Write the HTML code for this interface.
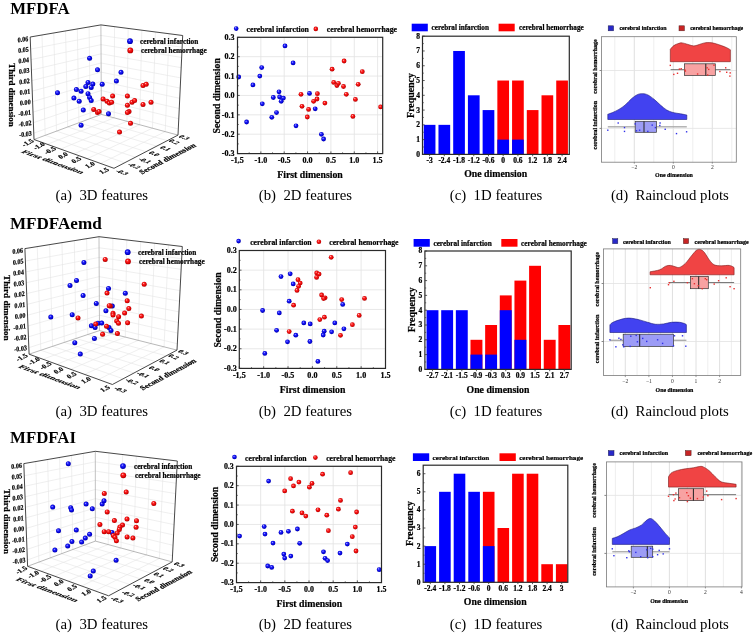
<!DOCTYPE html><html><head><meta charset="utf-8"><style>html,body{margin:0;padding:0;background:#fff;}svg{display:block;will-change:transform;}text{font-family:"Liberation Serif", serif;}</style></head><body>
<svg width="755" height="636" viewBox="0 0 755 636">
<defs>
<radialGradient id="gb" cx="0.5" cy="0.5" fx="0.36" fy="0.3" r="0.6"><stop offset="0" stop-color="#c8c8ff"/><stop offset="0.3" stop-color="#2424ff"/><stop offset="0.7" stop-color="#0000d0"/><stop offset="1" stop-color="#000088"/></radialGradient>
<radialGradient id="gr" cx="0.5" cy="0.5" fx="0.36" fy="0.3" r="0.6"><stop offset="0" stop-color="#ffc8c8"/><stop offset="0.3" stop-color="#ff2424"/><stop offset="0.7" stop-color="#d80000"/><stop offset="1" stop-color="#880000"/></radialGradient>
</defs>
<text x="10.20" y="14.30" font-size="16.8" font-weight="bold" text-anchor="start" fill="#000">MFDFA</text>
<text x="9.90" y="228.70" font-size="17.1" font-weight="bold" text-anchor="start" fill="#000">MFDFAemd</text>
<text x="10.10" y="443.40" font-size="16.8" font-weight="bold" text-anchor="start" fill="#000">MFDFAI</text>
<text x="55.60" y="200.10" font-size="14.8" font-weight="normal" text-anchor="start" fill="#000" xml:space="preserve">(a)  3D features</text>
<text x="258.80" y="200.10" font-size="14.8" font-weight="normal" text-anchor="start" fill="#000" xml:space="preserve">(b)  2D features</text>
<text x="449.80" y="200.10" font-size="14.8" font-weight="normal" text-anchor="start" fill="#000" xml:space="preserve">(c)  1D features</text>
<text x="610.90" y="200.10" font-size="14.8" font-weight="normal" text-anchor="start" fill="#000" xml:space="preserve">(d)  Raincloud plots</text>
<text x="55.60" y="415.50" font-size="14.8" font-weight="normal" text-anchor="start" fill="#000" xml:space="preserve">(a)  3D features</text>
<text x="258.80" y="415.50" font-size="14.8" font-weight="normal" text-anchor="start" fill="#000" xml:space="preserve">(b)  2D features</text>
<text x="449.80" y="415.50" font-size="14.8" font-weight="normal" text-anchor="start" fill="#000" xml:space="preserve">(c)  1D features</text>
<text x="610.90" y="415.50" font-size="14.8" font-weight="normal" text-anchor="start" fill="#000" xml:space="preserve">(d)  Raincloud plots</text>
<text x="55.60" y="628.80" font-size="14.8" font-weight="normal" text-anchor="start" fill="#000" xml:space="preserve">(a)  3D features</text>
<text x="258.80" y="628.80" font-size="14.8" font-weight="normal" text-anchor="start" fill="#000" xml:space="preserve">(b)  2D features</text>
<text x="449.80" y="628.80" font-size="14.8" font-weight="normal" text-anchor="start" fill="#000" xml:space="preserve">(c)  1D features</text>
<text x="610.90" y="628.80" font-size="14.8" font-weight="normal" text-anchor="start" fill="#000" xml:space="preserve">(d)  Raincloud plots</text>
<line x1="45.23" y1="135.32" x2="41.98" y2="34.98" stroke="#e4e4e4" stroke-width="0.6"/>
<line x1="56.47" y1="131.13" x2="53.77" y2="32.97" stroke="#e4e4e4" stroke-width="0.6"/>
<line x1="67.70" y1="126.95" x2="65.55" y2="30.95" stroke="#e4e4e4" stroke-width="0.6"/>
<line x1="78.93" y1="122.77" x2="77.33" y2="28.93" stroke="#e4e4e4" stroke-width="0.6"/>
<line x1="90.17" y1="118.58" x2="89.12" y2="26.92" stroke="#e4e4e4" stroke-width="0.6"/>
<line x1="114.17" y1="117.85" x2="114.53" y2="26.67" stroke="#e4e4e4" stroke-width="0.6"/>
<line x1="126.93" y1="121.30" x2="128.17" y2="28.43" stroke="#e4e4e4" stroke-width="0.6"/>
<line x1="139.70" y1="124.75" x2="141.80" y2="30.20" stroke="#e4e4e4" stroke-width="0.6"/>
<line x1="152.47" y1="128.20" x2="155.43" y2="31.97" stroke="#e4e4e4" stroke-width="0.6"/>
<line x1="165.23" y1="131.65" x2="169.07" y2="33.73" stroke="#e4e4e4" stroke-width="0.6"/>
<line x1="33.77" y1="133.19" x2="101.37" y2="108.89" stroke="#e4e4e4" stroke-width="0.6"/>
<line x1="101.37" y1="108.89" x2="178.29" y2="128.97" stroke="#e4e4e4" stroke-width="0.6"/>
<line x1="33.38" y1="122.68" x2="101.32" y2="99.71" stroke="#e4e4e4" stroke-width="0.6"/>
<line x1="101.32" y1="99.71" x2="178.77" y2="118.76" stroke="#e4e4e4" stroke-width="0.6"/>
<line x1="32.99" y1="112.17" x2="101.27" y2="90.53" stroke="#e4e4e4" stroke-width="0.6"/>
<line x1="101.27" y1="90.53" x2="179.25" y2="108.54" stroke="#e4e4e4" stroke-width="0.6"/>
<line x1="32.60" y1="101.65" x2="101.22" y2="81.35" stroke="#e4e4e4" stroke-width="0.6"/>
<line x1="101.22" y1="81.35" x2="179.74" y2="98.32" stroke="#e4e4e4" stroke-width="0.6"/>
<line x1="32.21" y1="91.14" x2="101.16" y2="72.17" stroke="#e4e4e4" stroke-width="0.6"/>
<line x1="101.16" y1="72.17" x2="180.22" y2="88.11" stroke="#e4e4e4" stroke-width="0.6"/>
<line x1="31.82" y1="80.63" x2="101.11" y2="62.99" stroke="#e4e4e4" stroke-width="0.6"/>
<line x1="101.11" y1="62.99" x2="180.70" y2="77.89" stroke="#e4e4e4" stroke-width="0.6"/>
<line x1="31.43" y1="70.12" x2="101.06" y2="53.82" stroke="#e4e4e4" stroke-width="0.6"/>
<line x1="101.06" y1="53.82" x2="181.18" y2="67.68" stroke="#e4e4e4" stroke-width="0.6"/>
<line x1="31.04" y1="59.60" x2="101.01" y2="44.64" stroke="#e4e4e4" stroke-width="0.6"/>
<line x1="101.01" y1="44.64" x2="181.66" y2="57.46" stroke="#e4e4e4" stroke-width="0.6"/>
<line x1="30.65" y1="49.09" x2="100.96" y2="35.46" stroke="#e4e4e4" stroke-width="0.6"/>
<line x1="100.96" y1="35.46" x2="182.15" y2="47.25" stroke="#e4e4e4" stroke-width="0.6"/>
<line x1="47.33" y1="144.30" x2="114.17" y2="117.85" stroke="#e4e4e4" stroke-width="0.6"/>
<line x1="124.67" y1="162.77" x2="45.23" y2="135.32" stroke="#e4e4e4" stroke-width="0.6"/>
<line x1="60.67" y1="149.10" x2="126.93" y2="121.30" stroke="#e4e4e4" stroke-width="0.6"/>
<line x1="135.33" y1="157.23" x2="56.47" y2="131.13" stroke="#e4e4e4" stroke-width="0.6"/>
<line x1="74.00" y1="153.90" x2="139.70" y2="124.75" stroke="#e4e4e4" stroke-width="0.6"/>
<line x1="146.00" y1="151.70" x2="67.70" y2="126.95" stroke="#e4e4e4" stroke-width="0.6"/>
<line x1="87.33" y1="158.70" x2="152.47" y2="128.20" stroke="#e4e4e4" stroke-width="0.6"/>
<line x1="156.67" y1="146.17" x2="78.93" y2="122.77" stroke="#e4e4e4" stroke-width="0.6"/>
<line x1="100.67" y1="163.50" x2="165.23" y2="131.65" stroke="#e4e4e4" stroke-width="0.6"/>
<line x1="167.33" y1="140.63" x2="90.17" y2="118.58" stroke="#e4e4e4" stroke-width="0.6"/>
<line x1="101.40" y1="114.40" x2="100.90" y2="24.90" stroke="#999" stroke-width="0.6"/>
<line x1="34.00" y1="139.50" x2="101.40" y2="114.40" stroke="#888" stroke-width="0.6"/>
<line x1="101.40" y1="114.40" x2="178.00" y2="135.10" stroke="#888" stroke-width="0.6"/>
<line x1="30.20" y1="37.00" x2="100.90" y2="24.90" stroke="#333" stroke-width="0.9"/>
<line x1="100.90" y1="24.90" x2="182.70" y2="35.50" stroke="#333" stroke-width="0.9"/>
<line x1="34.00" y1="139.50" x2="30.20" y2="37.00" stroke="#333" stroke-width="0.9"/>
<line x1="178.00" y1="135.10" x2="182.70" y2="35.50" stroke="#333" stroke-width="0.9"/>
<line x1="34.00" y1="139.50" x2="114.00" y2="168.30" stroke="#333" stroke-width="0.9"/>
<line x1="114.00" y1="168.30" x2="178.00" y2="135.10" stroke="#333" stroke-width="0.9"/>
<text x="0" y="0" font-size="7.2" font-weight="bold" text-anchor="middle" transform="matrix(0.8415,-0.1190,0.0370,0.9993,25.54,136.46)" stroke="#000" stroke-width="0.22">-0.03</text>
<text x="0" y="0" font-size="7.2" font-weight="bold" text-anchor="middle" transform="matrix(0.8415,-0.1190,0.0370,0.9993,25.15,125.95)" stroke="#000" stroke-width="0.22">-0.02</text>
<text x="0" y="0" font-size="7.2" font-weight="bold" text-anchor="middle" transform="matrix(0.8415,-0.1190,0.0370,0.9993,24.76,115.43)" stroke="#000" stroke-width="0.22">-0.01</text>
<text x="0" y="0" font-size="7.2" font-weight="bold" text-anchor="middle" transform="matrix(0.8415,-0.1190,0.0370,0.9993,25.38,104.78)" stroke="#000" stroke-width="0.22">0.00</text>
<text x="0" y="0" font-size="7.2" font-weight="bold" text-anchor="middle" transform="matrix(0.8415,-0.1190,0.0370,0.9993,24.99,94.27)" stroke="#000" stroke-width="0.22">0.01</text>
<text x="0" y="0" font-size="7.2" font-weight="bold" text-anchor="middle" transform="matrix(0.8415,-0.1190,0.0370,0.9993,24.60,83.75)" stroke="#000" stroke-width="0.22">0.02</text>
<text x="0" y="0" font-size="7.2" font-weight="bold" text-anchor="middle" transform="matrix(0.8415,-0.1190,0.0370,0.9993,24.21,73.24)" stroke="#000" stroke-width="0.22">0.03</text>
<text x="0" y="0" font-size="7.2" font-weight="bold" text-anchor="middle" transform="matrix(0.8415,-0.1190,0.0370,0.9993,23.82,62.73)" stroke="#000" stroke-width="0.22">0.04</text>
<text x="0" y="0" font-size="7.2" font-weight="bold" text-anchor="middle" transform="matrix(0.8415,-0.1190,0.0370,0.9993,23.43,52.21)" stroke="#000" stroke-width="0.22">0.05</text>
<text x="0" y="0" font-size="7.2" font-weight="bold" text-anchor="middle" transform="matrix(0.8415,-0.1190,0.0370,0.9993,23.05,41.70)" stroke="#000" stroke-width="0.22">0.06</text>
<text x="0.00" y="0.00" font-size="8.9" font-weight="bold" text-anchor="middle" fill="#000" transform="translate(9.06,95.00) rotate(90)" stroke="#000" stroke-width="0.22">Third dimension</text>
<text x="0" y="0" font-size="7.2" font-weight="bold" text-anchor="middle" transform="matrix(0.8877,-0.4605,0.7149,0.6256,29.40,144.29)" stroke="#000" stroke-width="0.22">-1.5</text>
<text x="0" y="0" font-size="7.2" font-weight="bold" text-anchor="middle" transform="matrix(0.8877,-0.4605,0.7149,0.6256,40.70,147.49)" stroke="#000" stroke-width="0.22">-1.0</text>
<text x="0" y="0" font-size="7.2" font-weight="bold" text-anchor="middle" transform="matrix(0.8877,-0.4605,0.7149,0.6256,51.70,151.89)" stroke="#000" stroke-width="0.22">-0.5</text>
<text x="0" y="0" font-size="7.2" font-weight="bold" text-anchor="middle" transform="matrix(0.8877,-0.4605,0.7149,0.6256,64.70,156.99)" stroke="#000" stroke-width="0.22">0.0</text>
<text x="0" y="0" font-size="7.2" font-weight="bold" text-anchor="middle" transform="matrix(0.8877,-0.4605,0.7149,0.6256,77.90,161.39)" stroke="#000" stroke-width="0.22">0.5</text>
<text x="0" y="0" font-size="7.2" font-weight="bold" text-anchor="middle" transform="matrix(0.8877,-0.4605,0.7149,0.6256,91.70,166.49)" stroke="#000" stroke-width="0.22">1.0</text>
<text x="0" y="0" font-size="7.2" font-weight="bold" text-anchor="middle" transform="matrix(0.8877,-0.4605,0.7149,0.6256,105.70,172.29)" stroke="#000" stroke-width="0.22">1.5</text>
<text x="0" y="0" font-size="7.2" font-weight="bold" text-anchor="middle" transform="matrix(0.9409,0.3387,-0.8433,0.4375,120.00,173.34)" stroke="#000" stroke-width="0.22">-0.3</text>
<text x="0" y="0" font-size="7.2" font-weight="bold" text-anchor="middle" transform="matrix(0.9409,0.3387,-0.8433,0.4375,132.10,166.94)" stroke="#000" stroke-width="0.22">-0.2</text>
<text x="0" y="0" font-size="7.2" font-weight="bold" text-anchor="middle" transform="matrix(0.9409,0.3387,-0.8433,0.4375,142.80,161.54)" stroke="#000" stroke-width="0.22">-0.1</text>
<text x="0" y="0" font-size="7.2" font-weight="bold" text-anchor="middle" transform="matrix(0.9409,0.3387,-0.8433,0.4375,152.20,154.84)" stroke="#000" stroke-width="0.22">0.0</text>
<text x="0" y="0" font-size="7.2" font-weight="bold" text-anchor="middle" transform="matrix(0.9409,0.3387,-0.8433,0.4375,163.50,149.54)" stroke="#000" stroke-width="0.22">0.1</text>
<text x="0" y="0" font-size="7.2" font-weight="bold" text-anchor="middle" transform="matrix(0.9409,0.3387,-0.8433,0.4375,172.20,142.84)" stroke="#000" stroke-width="0.22">0.2</text>
<text x="0" y="0" font-size="7.2" font-weight="bold" text-anchor="middle" transform="matrix(0.9409,0.3387,-0.8433,0.4375,182.30,138.54)" stroke="#000" stroke-width="0.22">0.3</text>
<text x="0" y="0" font-size="9.6" font-weight="bold" text-anchor="middle" transform="matrix(0.9409,0.3387,-0.7101,0.3684,50.75,163.17)" stroke="#000" stroke-width="0.22">First dimension</text>
<text x="0" y="0" font-size="8.0" font-weight="bold" text-anchor="middle" transform="matrix(0.8877,-0.4605,0.7149,0.6256,169.29,160.35)" stroke="#000" stroke-width="0.22">Second dimension</text>
<circle cx="89.60" cy="58.20" r="2.5" fill="url(#gb)"/>
<circle cx="97.50" cy="69.80" r="2.5" fill="url(#gb)"/>
<circle cx="121.00" cy="72.30" r="2.5" fill="url(#gb)"/>
<circle cx="116.40" cy="81.10" r="2.5" fill="url(#gb)"/>
<circle cx="102.20" cy="84.30" r="2.5" fill="url(#gb)"/>
<circle cx="57.50" cy="92.80" r="2.5" fill="url(#gb)"/>
<circle cx="76.40" cy="89.60" r="2.5" fill="url(#gb)"/>
<circle cx="81.10" cy="91.20" r="2.5" fill="url(#gb)"/>
<circle cx="88.00" cy="82.40" r="2.5" fill="url(#gb)"/>
<circle cx="92.80" cy="84.00" r="2.5" fill="url(#gb)"/>
<circle cx="85.80" cy="86.50" r="2.5" fill="url(#gb)"/>
<circle cx="91.20" cy="87.40" r="2.5" fill="url(#gb)"/>
<circle cx="73.90" cy="98.10" r="2.5" fill="url(#gb)"/>
<circle cx="79.20" cy="101.30" r="2.5" fill="url(#gb)"/>
<circle cx="88.00" cy="93.70" r="2.5" fill="url(#gb)"/>
<circle cx="89.60" cy="97.50" r="2.5" fill="url(#gb)"/>
<circle cx="91.20" cy="100.60" r="2.5" fill="url(#gb)"/>
<circle cx="83.30" cy="110.00" r="2.5" fill="url(#gb)"/>
<circle cx="108.50" cy="113.80" r="2.5" fill="url(#gb)"/>
<circle cx="81.10" cy="125.20" r="2.5" fill="url(#gb)"/>
<circle cx="143.00" cy="85.50" r="2.5" fill="url(#gr)"/>
<circle cx="146.20" cy="84.30" r="2.5" fill="url(#gr)"/>
<circle cx="151.00" cy="102.20" r="2.5" fill="url(#gr)"/>
<circle cx="143.00" cy="104.40" r="2.5" fill="url(#gr)"/>
<circle cx="127.40" cy="96.00" r="2.5" fill="url(#gr)"/>
<circle cx="132.00" cy="102.20" r="2.5" fill="url(#gr)"/>
<circle cx="134.60" cy="100.60" r="2.5" fill="url(#gr)"/>
<circle cx="127.40" cy="105.30" r="2.5" fill="url(#gr)"/>
<circle cx="129.00" cy="111.60" r="2.5" fill="url(#gr)"/>
<circle cx="127.40" cy="112.60" r="2.5" fill="url(#gr)"/>
<circle cx="130.50" cy="123.30" r="2.5" fill="url(#gr)"/>
<circle cx="119.50" cy="132.00" r="2.5" fill="url(#gr)"/>
<circle cx="103.10" cy="99.00" r="2.5" fill="url(#gr)"/>
<circle cx="107.00" cy="101.30" r="2.5" fill="url(#gr)"/>
<circle cx="109.40" cy="103.10" r="2.5" fill="url(#gr)"/>
<circle cx="111.60" cy="102.20" r="2.5" fill="url(#gr)"/>
<circle cx="112.60" cy="96.00" r="2.5" fill="url(#gr)"/>
<circle cx="93.70" cy="109.40" r="2.5" fill="url(#gr)"/>
<circle cx="97.50" cy="112.60" r="2.5" fill="url(#gr)"/>
<circle cx="99.00" cy="111.60" r="2.5" fill="url(#gr)"/>
<circle cx="130.00" cy="41.20" r="2.9" fill="url(#gb)"/>
<text x="140.00" y="43.60" font-size="7.3" font-weight="bold" text-anchor="start" fill="#000" stroke="#000" stroke-width="0.22">cerebral infarction</text>
<circle cx="130.30" cy="50.40" r="2.9" fill="url(#gr)"/>
<text x="141.00" y="52.80" font-size="7.3" font-weight="bold" text-anchor="start" fill="#000" stroke="#000" stroke-width="0.22">cerebral hemorrhage</text>
<line x1="40.83" y1="350.27" x2="37.25" y2="246.62" stroke="#e4e4e4" stroke-width="0.6"/>
<line x1="52.57" y1="346.33" x2="49.60" y2="244.63" stroke="#e4e4e4" stroke-width="0.6"/>
<line x1="64.30" y1="342.40" x2="61.95" y2="242.65" stroke="#e4e4e4" stroke-width="0.6"/>
<line x1="76.03" y1="338.47" x2="74.30" y2="240.67" stroke="#e4e4e4" stroke-width="0.6"/>
<line x1="87.77" y1="334.53" x2="86.65" y2="238.68" stroke="#e4e4e4" stroke-width="0.6"/>
<line x1="112.42" y1="333.85" x2="112.88" y2="238.33" stroke="#e4e4e4" stroke-width="0.6"/>
<line x1="125.33" y1="337.10" x2="126.77" y2="239.97" stroke="#e4e4e4" stroke-width="0.6"/>
<line x1="138.25" y1="340.35" x2="140.65" y2="241.60" stroke="#e4e4e4" stroke-width="0.6"/>
<line x1="151.17" y1="343.60" x2="154.53" y2="243.23" stroke="#e4e4e4" stroke-width="0.6"/>
<line x1="164.08" y1="346.85" x2="168.42" y2="244.87" stroke="#e4e4e4" stroke-width="0.6"/>
<line x1="28.84" y1="347.70" x2="99.47" y2="324.82" stroke="#e4e4e4" stroke-width="0.6"/>
<line x1="99.47" y1="324.82" x2="177.33" y2="343.72" stroke="#e4e4e4" stroke-width="0.6"/>
<line x1="28.41" y1="336.87" x2="99.42" y2="315.19" stroke="#e4e4e4" stroke-width="0.6"/>
<line x1="99.42" y1="315.19" x2="177.87" y2="333.10" stroke="#e4e4e4" stroke-width="0.6"/>
<line x1="27.98" y1="326.04" x2="99.37" y2="305.56" stroke="#e4e4e4" stroke-width="0.6"/>
<line x1="99.37" y1="305.56" x2="178.41" y2="322.47" stroke="#e4e4e4" stroke-width="0.6"/>
<line x1="27.55" y1="315.21" x2="99.32" y2="295.93" stroke="#e4e4e4" stroke-width="0.6"/>
<line x1="99.32" y1="295.93" x2="178.96" y2="311.85" stroke="#e4e4e4" stroke-width="0.6"/>
<line x1="27.12" y1="304.38" x2="99.26" y2="286.30" stroke="#e4e4e4" stroke-width="0.6"/>
<line x1="99.26" y1="286.30" x2="179.50" y2="301.22" stroke="#e4e4e4" stroke-width="0.6"/>
<line x1="26.69" y1="293.55" x2="99.21" y2="276.67" stroke="#e4e4e4" stroke-width="0.6"/>
<line x1="99.21" y1="276.67" x2="180.04" y2="290.60" stroke="#e4e4e4" stroke-width="0.6"/>
<line x1="26.26" y1="282.72" x2="99.16" y2="267.04" stroke="#e4e4e4" stroke-width="0.6"/>
<line x1="99.16" y1="267.04" x2="180.59" y2="279.97" stroke="#e4e4e4" stroke-width="0.6"/>
<line x1="25.83" y1="271.89" x2="99.11" y2="257.41" stroke="#e4e4e4" stroke-width="0.6"/>
<line x1="99.11" y1="257.41" x2="181.13" y2="269.35" stroke="#e4e4e4" stroke-width="0.6"/>
<line x1="25.40" y1="261.06" x2="99.06" y2="247.78" stroke="#e4e4e4" stroke-width="0.6"/>
<line x1="99.06" y1="247.78" x2="181.67" y2="258.72" stroke="#e4e4e4" stroke-width="0.6"/>
<line x1="42.98" y1="359.25" x2="112.42" y2="333.85" stroke="#e4e4e4" stroke-width="0.6"/>
<line x1="123.17" y1="378.77" x2="40.83" y2="350.27" stroke="#e4e4e4" stroke-width="0.6"/>
<line x1="56.87" y1="364.30" x2="125.33" y2="337.10" stroke="#e4e4e4" stroke-width="0.6"/>
<line x1="133.93" y1="373.03" x2="52.57" y2="346.33" stroke="#e4e4e4" stroke-width="0.6"/>
<line x1="70.75" y1="369.35" x2="138.25" y2="340.35" stroke="#e4e4e4" stroke-width="0.6"/>
<line x1="144.70" y1="367.30" x2="64.30" y2="342.40" stroke="#e4e4e4" stroke-width="0.6"/>
<line x1="84.63" y1="374.40" x2="151.17" y2="343.60" stroke="#e4e4e4" stroke-width="0.6"/>
<line x1="155.47" y1="361.57" x2="76.03" y2="338.47" stroke="#e4e4e4" stroke-width="0.6"/>
<line x1="98.52" y1="379.45" x2="164.08" y2="346.85" stroke="#e4e4e4" stroke-width="0.6"/>
<line x1="166.23" y1="355.83" x2="87.77" y2="334.53" stroke="#e4e4e4" stroke-width="0.6"/>
<line x1="99.50" y1="330.60" x2="99.00" y2="236.70" stroke="#999" stroke-width="0.6"/>
<line x1="29.10" y1="354.20" x2="99.50" y2="330.60" stroke="#888" stroke-width="0.6"/>
<line x1="99.50" y1="330.60" x2="177.00" y2="350.10" stroke="#888" stroke-width="0.6"/>
<line x1="24.90" y1="248.60" x2="99.00" y2="236.70" stroke="#333" stroke-width="0.9"/>
<line x1="99.00" y1="236.70" x2="182.30" y2="246.50" stroke="#333" stroke-width="0.9"/>
<line x1="29.10" y1="354.20" x2="24.90" y2="248.60" stroke="#333" stroke-width="0.9"/>
<line x1="177.00" y1="350.10" x2="182.30" y2="246.50" stroke="#333" stroke-width="0.9"/>
<line x1="29.10" y1="354.20" x2="112.40" y2="384.50" stroke="#333" stroke-width="0.9"/>
<line x1="112.40" y1="384.50" x2="177.00" y2="350.10" stroke="#333" stroke-width="0.9"/>
<text x="0" y="0" font-size="7.2" font-weight="bold" text-anchor="middle" transform="matrix(0.8415,-0.1190,0.0397,0.9992,20.63,350.97)" stroke="#000" stroke-width="0.22">-0.03</text>
<text x="0" y="0" font-size="7.2" font-weight="bold" text-anchor="middle" transform="matrix(0.8415,-0.1190,0.0397,0.9992,20.19,340.14)" stroke="#000" stroke-width="0.22">-0.02</text>
<text x="0" y="0" font-size="7.2" font-weight="bold" text-anchor="middle" transform="matrix(0.8415,-0.1190,0.0397,0.9992,19.76,329.31)" stroke="#000" stroke-width="0.22">-0.01</text>
<text x="0" y="0" font-size="7.2" font-weight="bold" text-anchor="middle" transform="matrix(0.8415,-0.1190,0.0397,0.9992,20.34,318.33)" stroke="#000" stroke-width="0.22">0.00</text>
<text x="0" y="0" font-size="7.2" font-weight="bold" text-anchor="middle" transform="matrix(0.8415,-0.1190,0.0397,0.9992,19.91,307.50)" stroke="#000" stroke-width="0.22">0.01</text>
<text x="0" y="0" font-size="7.2" font-weight="bold" text-anchor="middle" transform="matrix(0.8415,-0.1190,0.0397,0.9992,19.48,296.67)" stroke="#000" stroke-width="0.22">0.02</text>
<text x="0" y="0" font-size="7.2" font-weight="bold" text-anchor="middle" transform="matrix(0.8415,-0.1190,0.0397,0.9992,19.05,285.84)" stroke="#000" stroke-width="0.22">0.03</text>
<text x="0" y="0" font-size="7.2" font-weight="bold" text-anchor="middle" transform="matrix(0.8415,-0.1190,0.0397,0.9992,18.62,275.01)" stroke="#000" stroke-width="0.22">0.04</text>
<text x="0" y="0" font-size="7.2" font-weight="bold" text-anchor="middle" transform="matrix(0.8415,-0.1190,0.0397,0.9992,18.19,264.18)" stroke="#000" stroke-width="0.22">0.05</text>
<text x="0" y="0" font-size="7.2" font-weight="bold" text-anchor="middle" transform="matrix(0.8415,-0.1190,0.0397,0.9992,17.76,253.35)" stroke="#000" stroke-width="0.22">0.06</text>
<text x="0.00" y="0.00" font-size="9.2" font-weight="bold" text-anchor="middle" fill="#000" transform="translate(3.76,307.90) rotate(90)" stroke="#000" stroke-width="0.22">Third dimension</text>
<text x="0" y="0" font-size="7.2" font-weight="bold" text-anchor="middle" transform="matrix(0.8827,-0.4700,0.7172,0.6230,23.30,358.88)" stroke="#000" stroke-width="0.22">-1.5</text>
<text x="0" y="0" font-size="7.2" font-weight="bold" text-anchor="middle" transform="matrix(0.8827,-0.4700,0.7172,0.6230,35.70,362.48)" stroke="#000" stroke-width="0.22">-1.0</text>
<text x="0" y="0" font-size="7.2" font-weight="bold" text-anchor="middle" transform="matrix(0.8827,-0.4700,0.7172,0.6230,47.20,367.08)" stroke="#000" stroke-width="0.22">-0.5</text>
<text x="0" y="0" font-size="7.2" font-weight="bold" text-anchor="middle" transform="matrix(0.8827,-0.4700,0.7172,0.6230,60.20,371.98)" stroke="#000" stroke-width="0.22">0.0</text>
<text x="0" y="0" font-size="7.2" font-weight="bold" text-anchor="middle" transform="matrix(0.8827,-0.4700,0.7172,0.6230,73.20,376.68)" stroke="#000" stroke-width="0.22">0.5</text>
<text x="0" y="0" font-size="7.2" font-weight="bold" text-anchor="middle" transform="matrix(0.8827,-0.4700,0.7172,0.6230,87.70,381.68)" stroke="#000" stroke-width="0.22">1.0</text>
<text x="0" y="0" font-size="7.2" font-weight="bold" text-anchor="middle" transform="matrix(0.8827,-0.4700,0.7172,0.6230,106.70,390.18)" stroke="#000" stroke-width="0.22">1.5</text>
<text x="0" y="0" font-size="7.2" font-weight="bold" text-anchor="middle" transform="matrix(0.9398,0.3418,-0.8385,0.4465,118.61,390.76)" stroke="#000" stroke-width="0.22">-0.3</text>
<text x="0" y="0" font-size="7.2" font-weight="bold" text-anchor="middle" transform="matrix(0.9398,0.3418,-0.8385,0.4465,129.91,382.56)" stroke="#000" stroke-width="0.22">-0.2</text>
<text x="0" y="0" font-size="7.2" font-weight="bold" text-anchor="middle" transform="matrix(0.9398,0.3418,-0.8385,0.4465,141.11,375.76)" stroke="#000" stroke-width="0.22">-0.1</text>
<text x="0" y="0" font-size="7.2" font-weight="bold" text-anchor="middle" transform="matrix(0.9398,0.3418,-0.8385,0.4465,152.31,369.86)" stroke="#000" stroke-width="0.22">0.0</text>
<text x="0" y="0" font-size="7.2" font-weight="bold" text-anchor="middle" transform="matrix(0.9398,0.3418,-0.8385,0.4465,162.71,363.06)" stroke="#000" stroke-width="0.22">0.1</text>
<text x="0" y="0" font-size="7.2" font-weight="bold" text-anchor="middle" transform="matrix(0.9398,0.3418,-0.8385,0.4465,171.71,357.86)" stroke="#000" stroke-width="0.22">0.2</text>
<text x="0" y="0" font-size="7.2" font-weight="bold" text-anchor="middle" transform="matrix(0.9398,0.3418,-0.8385,0.4465,181.41,353.36)" stroke="#000" stroke-width="0.22">0.3</text>
<text x="0" y="0" font-size="9.6" font-weight="bold" text-anchor="middle" transform="matrix(0.9398,0.3418,-0.7061,0.3760,47.76,378.19)" stroke="#000" stroke-width="0.22">First dimension</text>
<text x="0" y="0" font-size="8.0" font-weight="bold" text-anchor="middle" transform="matrix(0.8827,-0.4700,0.7172,0.6230,169.89,376.04)" stroke="#000" stroke-width="0.22">Second dimension</text>
<circle cx="83.90" cy="262.40" r="2.5" fill="url(#gb)"/>
<circle cx="76.50" cy="280.40" r="2.5" fill="url(#gb)"/>
<circle cx="70.00" cy="285.40" r="2.5" fill="url(#gb)"/>
<circle cx="83.10" cy="295.50" r="2.5" fill="url(#gb)"/>
<circle cx="96.30" cy="303.40" r="2.5" fill="url(#gb)"/>
<circle cx="108.50" cy="288.50" r="2.5" fill="url(#gb)"/>
<circle cx="125.30" cy="293.20" r="2.5" fill="url(#gb)"/>
<circle cx="105.90" cy="310.80" r="2.5" fill="url(#gb)"/>
<circle cx="112.30" cy="306.10" r="2.5" fill="url(#gb)"/>
<circle cx="50.80" cy="317.00" r="2.5" fill="url(#gb)"/>
<circle cx="72.20" cy="314.80" r="2.5" fill="url(#gb)"/>
<circle cx="91.40" cy="325.80" r="2.5" fill="url(#gb)"/>
<circle cx="95.10" cy="327.40" r="2.5" fill="url(#gb)"/>
<circle cx="98.00" cy="323.20" r="2.5" fill="url(#gb)"/>
<circle cx="101.70" cy="323.10" r="2.5" fill="url(#gb)"/>
<circle cx="109.00" cy="327.40" r="2.5" fill="url(#gb)"/>
<circle cx="111.00" cy="330.40" r="2.5" fill="url(#gb)"/>
<circle cx="94.40" cy="338.50" r="2.5" fill="url(#gb)"/>
<circle cx="74.80" cy="342.70" r="2.5" fill="url(#gb)"/>
<circle cx="80.30" cy="354.10" r="2.5" fill="url(#gb)"/>
<circle cx="105.20" cy="259.40" r="2.5" fill="url(#gr)"/>
<circle cx="144.20" cy="284.20" r="2.5" fill="url(#gr)"/>
<circle cx="107.00" cy="293.10" r="2.5" fill="url(#gr)"/>
<circle cx="127.20" cy="300.80" r="2.5" fill="url(#gr)"/>
<circle cx="110.30" cy="305.90" r="2.5" fill="url(#gr)"/>
<circle cx="128.80" cy="308.50" r="2.5" fill="url(#gr)"/>
<circle cx="124.60" cy="313.00" r="2.5" fill="url(#gr)"/>
<circle cx="113.00" cy="313.20" r="2.5" fill="url(#gr)"/>
<circle cx="118.60" cy="316.70" r="2.5" fill="url(#gr)"/>
<circle cx="141.40" cy="316.10" r="2.5" fill="url(#gr)"/>
<circle cx="78.00" cy="317.90" r="2.5" fill="url(#gr)"/>
<circle cx="116.70" cy="320.90" r="2.5" fill="url(#gr)"/>
<circle cx="118.50" cy="323.20" r="2.5" fill="url(#gr)"/>
<circle cx="127.60" cy="322.80" r="2.5" fill="url(#gr)"/>
<circle cx="106.50" cy="326.20" r="2.5" fill="url(#gr)"/>
<circle cx="102.60" cy="334.30" r="2.5" fill="url(#gr)"/>
<circle cx="117.40" cy="333.60" r="2.5" fill="url(#gr)"/>
<circle cx="95.70" cy="324.00" r="2.5" fill="url(#gr)"/>
<circle cx="109.20" cy="305.70" r="2.5" fill="url(#gr)"/>
<circle cx="113.00" cy="315.00" r="2.5" fill="url(#gr)"/>
<circle cx="127.70" cy="252.20" r="2.9" fill="url(#gb)"/>
<text x="138.00" y="254.60" font-size="7.3" font-weight="bold" text-anchor="start" fill="#000" stroke="#000" stroke-width="0.22">cerebral infarction</text>
<circle cx="128.00" cy="261.40" r="2.9" fill="url(#gr)"/>
<text x="139.00" y="263.80" font-size="7.3" font-weight="bold" text-anchor="start" fill="#000" stroke="#000" stroke-width="0.22">cerebral hemorrhage</text>
<line x1="38.90" y1="562.10" x2="35.72" y2="461.55" stroke="#e4e4e4" stroke-width="0.6"/>
<line x1="50.20" y1="557.90" x2="47.63" y2="459.50" stroke="#e4e4e4" stroke-width="0.6"/>
<line x1="61.50" y1="553.70" x2="59.55" y2="457.45" stroke="#e4e4e4" stroke-width="0.6"/>
<line x1="72.80" y1="549.50" x2="71.47" y2="455.40" stroke="#e4e4e4" stroke-width="0.6"/>
<line x1="84.10" y1="545.30" x2="83.38" y2="453.35" stroke="#e4e4e4" stroke-width="0.6"/>
<line x1="108.20" y1="544.57" x2="108.97" y2="452.92" stroke="#e4e4e4" stroke-width="0.6"/>
<line x1="121.00" y1="548.03" x2="122.63" y2="454.53" stroke="#e4e4e4" stroke-width="0.6"/>
<line x1="133.80" y1="551.50" x2="136.30" y2="456.15" stroke="#e4e4e4" stroke-width="0.6"/>
<line x1="146.60" y1="554.97" x2="149.97" y2="457.77" stroke="#e4e4e4" stroke-width="0.6"/>
<line x1="159.40" y1="558.43" x2="163.63" y2="459.38" stroke="#e4e4e4" stroke-width="0.6"/>
<line x1="27.37" y1="559.98" x2="95.39" y2="535.57" stroke="#e4e4e4" stroke-width="0.6"/>
<line x1="95.39" y1="535.57" x2="172.51" y2="555.69" stroke="#e4e4e4" stroke-width="0.6"/>
<line x1="26.98" y1="549.45" x2="95.38" y2="526.36" stroke="#e4e4e4" stroke-width="0.6"/>
<line x1="95.38" y1="526.36" x2="173.04" y2="545.34" stroke="#e4e4e4" stroke-width="0.6"/>
<line x1="26.59" y1="538.91" x2="95.37" y2="517.15" stroke="#e4e4e4" stroke-width="0.6"/>
<line x1="95.37" y1="517.15" x2="173.56" y2="534.99" stroke="#e4e4e4" stroke-width="0.6"/>
<line x1="26.20" y1="528.38" x2="95.36" y2="507.94" stroke="#e4e4e4" stroke-width="0.6"/>
<line x1="95.36" y1="507.94" x2="174.08" y2="524.64" stroke="#e4e4e4" stroke-width="0.6"/>
<line x1="25.81" y1="517.85" x2="95.35" y2="498.73" stroke="#e4e4e4" stroke-width="0.6"/>
<line x1="95.35" y1="498.73" x2="174.61" y2="514.30" stroke="#e4e4e4" stroke-width="0.6"/>
<line x1="25.42" y1="507.31" x2="95.34" y2="489.52" stroke="#e4e4e4" stroke-width="0.6"/>
<line x1="95.34" y1="489.52" x2="175.13" y2="503.95" stroke="#e4e4e4" stroke-width="0.6"/>
<line x1="25.03" y1="496.78" x2="95.33" y2="480.31" stroke="#e4e4e4" stroke-width="0.6"/>
<line x1="95.33" y1="480.31" x2="175.65" y2="493.60" stroke="#e4e4e4" stroke-width="0.6"/>
<line x1="24.64" y1="486.25" x2="95.32" y2="471.10" stroke="#e4e4e4" stroke-width="0.6"/>
<line x1="95.32" y1="471.10" x2="176.18" y2="483.25" stroke="#e4e4e4" stroke-width="0.6"/>
<line x1="24.25" y1="475.71" x2="95.31" y2="461.89" stroke="#e4e4e4" stroke-width="0.6"/>
<line x1="95.31" y1="461.89" x2="176.70" y2="472.90" stroke="#e4e4e4" stroke-width="0.6"/>
<line x1="41.10" y1="571.22" x2="108.20" y2="544.57" stroke="#e4e4e4" stroke-width="0.6"/>
<line x1="119.20" y1="590.15" x2="38.90" y2="562.10" stroke="#e4e4e4" stroke-width="0.6"/>
<line x1="54.60" y1="576.13" x2="121.00" y2="548.03" stroke="#e4e4e4" stroke-width="0.6"/>
<line x1="129.80" y1="584.50" x2="50.20" y2="557.90" stroke="#e4e4e4" stroke-width="0.6"/>
<line x1="68.10" y1="581.05" x2="133.80" y2="551.50" stroke="#e4e4e4" stroke-width="0.6"/>
<line x1="140.40" y1="578.85" x2="61.50" y2="553.70" stroke="#e4e4e4" stroke-width="0.6"/>
<line x1="81.60" y1="585.97" x2="146.60" y2="554.97" stroke="#e4e4e4" stroke-width="0.6"/>
<line x1="151.00" y1="573.20" x2="72.80" y2="549.50" stroke="#e4e4e4" stroke-width="0.6"/>
<line x1="95.10" y1="590.88" x2="159.40" y2="558.43" stroke="#e4e4e4" stroke-width="0.6"/>
<line x1="161.60" y1="567.55" x2="84.10" y2="545.30" stroke="#e4e4e4" stroke-width="0.6"/>
<line x1="95.40" y1="541.10" x2="95.30" y2="451.30" stroke="#999" stroke-width="0.6"/>
<line x1="27.60" y1="566.30" x2="95.40" y2="541.10" stroke="#888" stroke-width="0.6"/>
<line x1="95.40" y1="541.10" x2="172.20" y2="561.90" stroke="#888" stroke-width="0.6"/>
<line x1="23.80" y1="463.60" x2="95.30" y2="451.30" stroke="#333" stroke-width="0.9"/>
<line x1="95.30" y1="451.30" x2="177.30" y2="461.00" stroke="#333" stroke-width="0.9"/>
<line x1="27.60" y1="566.30" x2="23.80" y2="463.60" stroke="#333" stroke-width="0.9"/>
<line x1="172.20" y1="561.90" x2="177.30" y2="461.00" stroke="#333" stroke-width="0.9"/>
<line x1="27.60" y1="566.30" x2="108.60" y2="595.80" stroke="#333" stroke-width="0.9"/>
<line x1="108.60" y1="595.80" x2="172.20" y2="561.90" stroke="#333" stroke-width="0.9"/>
<text x="0" y="0" font-size="7.2" font-weight="bold" text-anchor="middle" transform="matrix(0.8415,-0.1190,0.0370,0.9993,19.14,563.25)" stroke="#000" stroke-width="0.22">-0.03</text>
<text x="0" y="0" font-size="7.2" font-weight="bold" text-anchor="middle" transform="matrix(0.8415,-0.1190,0.0370,0.9993,18.75,552.71)" stroke="#000" stroke-width="0.22">-0.02</text>
<text x="0" y="0" font-size="7.2" font-weight="bold" text-anchor="middle" transform="matrix(0.8415,-0.1190,0.0370,0.9993,18.36,542.18)" stroke="#000" stroke-width="0.22">-0.01</text>
<text x="0" y="0" font-size="7.2" font-weight="bold" text-anchor="middle" transform="matrix(0.8415,-0.1190,0.0370,0.9993,18.98,531.50)" stroke="#000" stroke-width="0.22">0.00</text>
<text x="0" y="0" font-size="7.2" font-weight="bold" text-anchor="middle" transform="matrix(0.8415,-0.1190,0.0370,0.9993,18.59,520.97)" stroke="#000" stroke-width="0.22">0.01</text>
<text x="0" y="0" font-size="7.2" font-weight="bold" text-anchor="middle" transform="matrix(0.8415,-0.1190,0.0370,0.9993,18.20,510.44)" stroke="#000" stroke-width="0.22">0.02</text>
<text x="0" y="0" font-size="7.2" font-weight="bold" text-anchor="middle" transform="matrix(0.8415,-0.1190,0.0370,0.9993,17.81,499.90)" stroke="#000" stroke-width="0.22">0.03</text>
<text x="0" y="0" font-size="7.2" font-weight="bold" text-anchor="middle" transform="matrix(0.8415,-0.1190,0.0370,0.9993,17.42,489.37)" stroke="#000" stroke-width="0.22">0.04</text>
<text x="0" y="0" font-size="7.2" font-weight="bold" text-anchor="middle" transform="matrix(0.8415,-0.1190,0.0370,0.9993,17.03,478.84)" stroke="#000" stroke-width="0.22">0.05</text>
<text x="0" y="0" font-size="7.2" font-weight="bold" text-anchor="middle" transform="matrix(0.8415,-0.1190,0.0370,0.9993,16.64,468.30)" stroke="#000" stroke-width="0.22">0.06</text>
<text x="0.00" y="0.00" font-size="9.1" font-weight="bold" text-anchor="middle" fill="#000" transform="translate(3.50,521.50) rotate(90)" stroke="#000" stroke-width="0.22">Third dimension</text>
<text x="0" y="0" font-size="7.2" font-weight="bold" text-anchor="middle" transform="matrix(0.8825,-0.4704,0.7172,0.6230,22.90,571.58)" stroke="#000" stroke-width="0.22">-1.5</text>
<text x="0" y="0" font-size="7.2" font-weight="bold" text-anchor="middle" transform="matrix(0.8825,-0.4704,0.7172,0.6230,34.90,575.88)" stroke="#000" stroke-width="0.22">-1.0</text>
<text x="0" y="0" font-size="7.2" font-weight="bold" text-anchor="middle" transform="matrix(0.8825,-0.4704,0.7172,0.6230,47.00,580.08)" stroke="#000" stroke-width="0.22">-0.5</text>
<text x="0" y="0" font-size="7.2" font-weight="bold" text-anchor="middle" transform="matrix(0.8825,-0.4704,0.7172,0.6230,60.40,584.28)" stroke="#000" stroke-width="0.22">0.0</text>
<text x="0" y="0" font-size="7.2" font-weight="bold" text-anchor="middle" transform="matrix(0.8825,-0.4704,0.7172,0.6230,73.80,589.28)" stroke="#000" stroke-width="0.22">0.5</text>
<text x="0" y="0" font-size="7.2" font-weight="bold" text-anchor="middle" transform="matrix(0.8825,-0.4704,0.7172,0.6230,88.00,594.18)" stroke="#000" stroke-width="0.22">1.0</text>
<text x="0" y="0" font-size="7.2" font-weight="bold" text-anchor="middle" transform="matrix(0.8825,-0.4704,0.7172,0.6230,103.20,600.78)" stroke="#000" stroke-width="0.22">1.5</text>
<text x="0" y="0" font-size="7.2" font-weight="bold" text-anchor="middle" transform="matrix(0.9396,0.3422,-0.8383,0.4469,115.21,601.06)" stroke="#000" stroke-width="0.22">-0.3</text>
<text x="0" y="0" font-size="7.2" font-weight="bold" text-anchor="middle" transform="matrix(0.9396,0.3422,-0.8383,0.4469,126.21,594.86)" stroke="#000" stroke-width="0.22">-0.2</text>
<text x="0" y="0" font-size="7.2" font-weight="bold" text-anchor="middle" transform="matrix(0.9396,0.3422,-0.8383,0.4469,137.21,587.76)" stroke="#000" stroke-width="0.22">-0.1</text>
<text x="0" y="0" font-size="7.2" font-weight="bold" text-anchor="middle" transform="matrix(0.9396,0.3422,-0.8383,0.4469,147.41,582.26)" stroke="#000" stroke-width="0.22">0.0</text>
<text x="0" y="0" font-size="7.2" font-weight="bold" text-anchor="middle" transform="matrix(0.9396,0.3422,-0.8383,0.4469,156.91,575.96)" stroke="#000" stroke-width="0.22">0.1</text>
<text x="0" y="0" font-size="7.2" font-weight="bold" text-anchor="middle" transform="matrix(0.9396,0.3422,-0.8383,0.4469,166.31,570.46)" stroke="#000" stroke-width="0.22">0.2</text>
<text x="0" y="0" font-size="7.2" font-weight="bold" text-anchor="middle" transform="matrix(0.9396,0.3422,-0.8383,0.4469,177.31,565.76)" stroke="#000" stroke-width="0.22">0.3</text>
<text x="0" y="0" font-size="9.6" font-weight="bold" text-anchor="middle" transform="matrix(0.9396,0.3422,-0.7060,0.3763,45.06,590.99)" stroke="#000" stroke-width="0.22">First dimension</text>
<text x="0" y="0" font-size="8.0" font-weight="bold" text-anchor="middle" transform="matrix(0.8825,-0.4704,0.7172,0.6230,165.49,587.14)" stroke="#000" stroke-width="0.22">Second dimension</text>
<circle cx="68.30" cy="463.80" r="2.5" fill="url(#gb)"/>
<circle cx="52.70" cy="507.10" r="2.5" fill="url(#gb)"/>
<circle cx="70.70" cy="507.70" r="2.5" fill="url(#gb)"/>
<circle cx="71.50" cy="509.90" r="2.5" fill="url(#gb)"/>
<circle cx="86.10" cy="504.10" r="2.5" fill="url(#gb)"/>
<circle cx="92.30" cy="508.80" r="2.5" fill="url(#gb)"/>
<circle cx="102.20" cy="504.00" r="2.5" fill="url(#gb)"/>
<circle cx="104.00" cy="500.80" r="2.5" fill="url(#gb)"/>
<circle cx="58.50" cy="530.80" r="2.5" fill="url(#gb)"/>
<circle cx="76.30" cy="530.10" r="2.5" fill="url(#gb)"/>
<circle cx="89.60" cy="534.30" r="2.5" fill="url(#gb)"/>
<circle cx="85.30" cy="538.10" r="2.5" fill="url(#gb)"/>
<circle cx="81.60" cy="542.00" r="2.5" fill="url(#gb)"/>
<circle cx="71.90" cy="541.50" r="2.5" fill="url(#gb)"/>
<circle cx="67.70" cy="546.00" r="2.5" fill="url(#gb)"/>
<circle cx="54.90" cy="550.10" r="2.5" fill="url(#gb)"/>
<circle cx="112.00" cy="532.50" r="2.5" fill="url(#gb)"/>
<circle cx="116.10" cy="560.30" r="2.5" fill="url(#gb)"/>
<circle cx="93.30" cy="571.00" r="2.5" fill="url(#gb)"/>
<circle cx="90.20" cy="575.90" r="2.5" fill="url(#gb)"/>
<circle cx="104.30" cy="493.50" r="2.5" fill="url(#gr)"/>
<circle cx="126.20" cy="492.00" r="2.5" fill="url(#gr)"/>
<circle cx="153.80" cy="503.40" r="2.5" fill="url(#gr)"/>
<circle cx="107.20" cy="511.90" r="2.5" fill="url(#gr)"/>
<circle cx="114.40" cy="520.60" r="2.5" fill="url(#gr)"/>
<circle cx="127.00" cy="519.00" r="2.5" fill="url(#gr)"/>
<circle cx="136.50" cy="520.70" r="2.5" fill="url(#gr)"/>
<circle cx="99.90" cy="524.50" r="2.5" fill="url(#gr)"/>
<circle cx="122.50" cy="525.00" r="2.5" fill="url(#gr)"/>
<circle cx="119.90" cy="527.00" r="2.5" fill="url(#gr)"/>
<circle cx="119.30" cy="529.40" r="2.5" fill="url(#gr)"/>
<circle cx="136.10" cy="527.30" r="2.5" fill="url(#gr)"/>
<circle cx="104.20" cy="531.70" r="2.5" fill="url(#gr)"/>
<circle cx="108.60" cy="531.70" r="2.5" fill="url(#gr)"/>
<circle cx="117.20" cy="533.00" r="2.5" fill="url(#gr)"/>
<circle cx="113.30" cy="535.60" r="2.5" fill="url(#gr)"/>
<circle cx="114.90" cy="537.20" r="2.5" fill="url(#gr)"/>
<circle cx="116.40" cy="540.80" r="2.5" fill="url(#gr)"/>
<circle cx="127.10" cy="536.90" r="2.5" fill="url(#gr)"/>
<circle cx="132.90" cy="538.00" r="2.5" fill="url(#gr)"/>
<circle cx="123.00" cy="466.10" r="2.9" fill="url(#gb)"/>
<text x="133.90" y="468.50" font-size="7.3" font-weight="bold" text-anchor="start" fill="#000" stroke="#000" stroke-width="0.22">cerebral infarction</text>
<circle cx="123.30" cy="475.30" r="2.9" fill="url(#gr)"/>
<text x="134.90" y="477.70" font-size="7.3" font-weight="bold" text-anchor="start" fill="#000" stroke="#000" stroke-width="0.22">cerebral hemorrhage</text>
<line x1="260.85" y1="37.30" x2="260.85" y2="153.60" stroke="#e2e2e2" stroke-width="0.8"/>
<line x1="284.20" y1="37.30" x2="284.20" y2="153.60" stroke="#e2e2e2" stroke-width="0.8"/>
<line x1="307.55" y1="37.30" x2="307.55" y2="153.60" stroke="#e2e2e2" stroke-width="0.8"/>
<line x1="330.90" y1="37.30" x2="330.90" y2="153.60" stroke="#e2e2e2" stroke-width="0.8"/>
<line x1="354.25" y1="37.30" x2="354.25" y2="153.60" stroke="#e2e2e2" stroke-width="0.8"/>
<line x1="377.60" y1="37.30" x2="377.60" y2="153.60" stroke="#e2e2e2" stroke-width="0.8"/>
<line x1="237.50" y1="56.68" x2="382.70" y2="56.68" stroke="#e2e2e2" stroke-width="0.8"/>
<line x1="237.50" y1="76.07" x2="382.70" y2="76.07" stroke="#e2e2e2" stroke-width="0.8"/>
<line x1="237.50" y1="95.45" x2="382.70" y2="95.45" stroke="#e2e2e2" stroke-width="0.8"/>
<line x1="237.50" y1="114.83" x2="382.70" y2="114.83" stroke="#e2e2e2" stroke-width="0.8"/>
<line x1="237.50" y1="134.22" x2="382.70" y2="134.22" stroke="#e2e2e2" stroke-width="0.8"/>
<line x1="237.50" y1="153.60" x2="237.50" y2="151.40" stroke="#333" stroke-width="0.8"/>
<line x1="249.18" y1="153.60" x2="249.18" y2="152.30" stroke="#333" stroke-width="0.7"/>
<line x1="260.85" y1="153.60" x2="260.85" y2="151.40" stroke="#333" stroke-width="0.8"/>
<line x1="272.52" y1="153.60" x2="272.52" y2="152.30" stroke="#333" stroke-width="0.7"/>
<line x1="284.20" y1="153.60" x2="284.20" y2="151.40" stroke="#333" stroke-width="0.8"/>
<line x1="295.88" y1="153.60" x2="295.88" y2="152.30" stroke="#333" stroke-width="0.7"/>
<line x1="307.55" y1="153.60" x2="307.55" y2="151.40" stroke="#333" stroke-width="0.8"/>
<line x1="319.23" y1="153.60" x2="319.23" y2="152.30" stroke="#333" stroke-width="0.7"/>
<line x1="330.90" y1="153.60" x2="330.90" y2="151.40" stroke="#333" stroke-width="0.8"/>
<line x1="342.57" y1="153.60" x2="342.57" y2="152.30" stroke="#333" stroke-width="0.7"/>
<line x1="354.25" y1="153.60" x2="354.25" y2="151.40" stroke="#333" stroke-width="0.8"/>
<line x1="365.93" y1="153.60" x2="365.93" y2="152.30" stroke="#333" stroke-width="0.7"/>
<line x1="377.60" y1="153.60" x2="377.60" y2="151.40" stroke="#333" stroke-width="0.8"/>
<line x1="237.50" y1="37.30" x2="239.70" y2="37.30" stroke="#333" stroke-width="0.8"/>
<line x1="237.50" y1="46.99" x2="238.80" y2="46.99" stroke="#333" stroke-width="0.7"/>
<line x1="237.50" y1="56.68" x2="239.70" y2="56.68" stroke="#333" stroke-width="0.8"/>
<line x1="237.50" y1="66.38" x2="238.80" y2="66.38" stroke="#333" stroke-width="0.7"/>
<line x1="237.50" y1="76.07" x2="239.70" y2="76.07" stroke="#333" stroke-width="0.8"/>
<line x1="237.50" y1="85.76" x2="238.80" y2="85.76" stroke="#333" stroke-width="0.7"/>
<line x1="237.50" y1="95.45" x2="239.70" y2="95.45" stroke="#333" stroke-width="0.8"/>
<line x1="237.50" y1="105.14" x2="238.80" y2="105.14" stroke="#333" stroke-width="0.7"/>
<line x1="237.50" y1="114.83" x2="239.70" y2="114.83" stroke="#333" stroke-width="0.8"/>
<line x1="237.50" y1="124.52" x2="238.80" y2="124.52" stroke="#333" stroke-width="0.7"/>
<line x1="237.50" y1="134.22" x2="239.70" y2="134.22" stroke="#333" stroke-width="0.8"/>
<line x1="237.50" y1="143.91" x2="238.80" y2="143.91" stroke="#333" stroke-width="0.7"/>
<line x1="237.50" y1="153.60" x2="239.70" y2="153.60" stroke="#333" stroke-width="0.8"/>
<line x1="237.50" y1="163.29" x2="238.80" y2="163.29" stroke="#333" stroke-width="0.7"/>
<circle cx="238.70" cy="77.00" r="2.4" fill="url(#gb)"/>
<circle cx="246.60" cy="122.00" r="2.4" fill="url(#gb)"/>
<circle cx="252.90" cy="84.90" r="2.4" fill="url(#gb)"/>
<circle cx="261.70" cy="67.60" r="2.4" fill="url(#gb)"/>
<circle cx="259.80" cy="76.10" r="2.4" fill="url(#gb)"/>
<circle cx="262.30" cy="103.80" r="2.4" fill="url(#gb)"/>
<circle cx="273.30" cy="97.50" r="2.4" fill="url(#gb)"/>
<circle cx="276.50" cy="112.60" r="2.4" fill="url(#gb)"/>
<circle cx="271.80" cy="117.30" r="2.4" fill="url(#gb)"/>
<circle cx="279.00" cy="91.80" r="2.4" fill="url(#gb)"/>
<circle cx="279.60" cy="96.90" r="2.4" fill="url(#gb)"/>
<circle cx="283.40" cy="98.10" r="2.4" fill="url(#gb)"/>
<circle cx="281.20" cy="101.30" r="2.4" fill="url(#gb)"/>
<circle cx="285.00" cy="45.90" r="2.4" fill="url(#gb)"/>
<circle cx="293.10" cy="62.90" r="2.4" fill="url(#gb)"/>
<circle cx="296.00" cy="125.80" r="2.4" fill="url(#gb)"/>
<circle cx="309.50" cy="93.40" r="2.4" fill="url(#gb)"/>
<circle cx="315.20" cy="108.80" r="2.4" fill="url(#gb)"/>
<circle cx="321.40" cy="134.30" r="2.4" fill="url(#gb)"/>
<circle cx="323.60" cy="139.00" r="2.4" fill="url(#gb)"/>
<circle cx="301.00" cy="94.30" r="2.4" fill="url(#gr)"/>
<circle cx="302.00" cy="106.30" r="2.4" fill="url(#gr)"/>
<circle cx="307.30" cy="117.00" r="2.4" fill="url(#gr)"/>
<circle cx="308.60" cy="109.40" r="2.4" fill="url(#gr)"/>
<circle cx="313.60" cy="101.30" r="2.4" fill="url(#gr)"/>
<circle cx="317.40" cy="93.70" r="2.4" fill="url(#gr)"/>
<circle cx="317.00" cy="99.00" r="2.4" fill="url(#gr)"/>
<circle cx="324.90" cy="103.10" r="2.4" fill="url(#gr)"/>
<circle cx="332.10" cy="69.20" r="2.4" fill="url(#gr)"/>
<circle cx="333.70" cy="82.40" r="2.4" fill="url(#gr)"/>
<circle cx="336.90" cy="85.50" r="2.4" fill="url(#gr)"/>
<circle cx="338.40" cy="83.30" r="2.4" fill="url(#gr)"/>
<circle cx="343.50" cy="86.50" r="2.4" fill="url(#gr)"/>
<circle cx="344.10" cy="61.00" r="2.4" fill="url(#gr)"/>
<circle cx="346.30" cy="94.30" r="2.4" fill="url(#gr)"/>
<circle cx="355.40" cy="99.40" r="2.4" fill="url(#gr)"/>
<circle cx="358.20" cy="84.30" r="2.4" fill="url(#gr)"/>
<circle cx="362.30" cy="71.70" r="2.4" fill="url(#gr)"/>
<circle cx="352.90" cy="116.40" r="2.4" fill="url(#gr)"/>
<circle cx="380.60" cy="106.90" r="2.4" fill="url(#gr)"/>
<rect x="237.5" y="37.3" width="145.2" height="116.3" fill="none" stroke="#2a2a2a" stroke-width="1.2"/>
<text x="237.50" y="162.60" font-size="8.1" font-weight="bold" text-anchor="middle" fill="#000" stroke="#000" stroke-width="0.22">-1.5</text>
<text x="260.85" y="162.60" font-size="8.1" font-weight="bold" text-anchor="middle" fill="#000" stroke="#000" stroke-width="0.22">-1.0</text>
<text x="284.20" y="162.60" font-size="8.1" font-weight="bold" text-anchor="middle" fill="#000" stroke="#000" stroke-width="0.22">-0.5</text>
<text x="307.55" y="162.60" font-size="8.1" font-weight="bold" text-anchor="middle" fill="#000" stroke="#000" stroke-width="0.22">0.0</text>
<text x="330.90" y="162.60" font-size="8.1" font-weight="bold" text-anchor="middle" fill="#000" stroke="#000" stroke-width="0.22">0.5</text>
<text x="354.25" y="162.60" font-size="8.1" font-weight="bold" text-anchor="middle" fill="#000" stroke="#000" stroke-width="0.22">1.0</text>
<text x="377.60" y="162.60" font-size="8.1" font-weight="bold" text-anchor="middle" fill="#000" stroke="#000" stroke-width="0.22">1.5</text>
<text x="234.60" y="39.97" font-size="8.1" font-weight="bold" text-anchor="end" fill="#000" stroke="#000" stroke-width="0.22">0.3</text>
<text x="234.60" y="59.36" font-size="8.1" font-weight="bold" text-anchor="end" fill="#000" stroke="#000" stroke-width="0.22">0.2</text>
<text x="234.60" y="78.74" font-size="8.1" font-weight="bold" text-anchor="end" fill="#000" stroke="#000" stroke-width="0.22">0.1</text>
<text x="234.60" y="98.12" font-size="8.1" font-weight="bold" text-anchor="end" fill="#000" stroke="#000" stroke-width="0.22">0.0</text>
<text x="234.60" y="117.51" font-size="8.1" font-weight="bold" text-anchor="end" fill="#000" stroke="#000" stroke-width="0.22">-0.1</text>
<text x="234.60" y="136.89" font-size="8.1" font-weight="bold" text-anchor="end" fill="#000" stroke="#000" stroke-width="0.22">-0.2</text>
<text x="234.60" y="156.27" font-size="8.1" font-weight="bold" text-anchor="end" fill="#000" stroke="#000" stroke-width="0.22">-0.3</text>
<circle cx="236.20" cy="28.60" r="2.3" fill="url(#gb)"/>
<text x="246.60" y="31.80" font-size="7.8" font-weight="bold" text-anchor="start" fill="#000" stroke="#000" stroke-width="0.22">cerebral infarction</text>
<circle cx="315.80" cy="28.90" r="2.3" fill="url(#gr)"/>
<text x="326.80" y="31.80" font-size="7.8" font-weight="bold" text-anchor="start" fill="#000" stroke="#000" stroke-width="0.22">cerebral hemorrhage</text>
<text x="310.00" y="178.20" font-size="9.8" font-weight="bold" text-anchor="middle" fill="#000" stroke="#000" stroke-width="0.22">First dimension</text>
<text x="0.00" y="0.00" font-size="9.8" font-weight="bold" text-anchor="middle" fill="#000" transform="translate(220.00,95.80) rotate(-90)" stroke="#000" stroke-width="0.22">Second dimension</text>
<line x1="263.67" y1="250.50" x2="263.67" y2="368.40" stroke="#e2e2e2" stroke-width="0.8"/>
<line x1="288.03" y1="250.50" x2="288.03" y2="368.40" stroke="#e2e2e2" stroke-width="0.8"/>
<line x1="312.40" y1="250.50" x2="312.40" y2="368.40" stroke="#e2e2e2" stroke-width="0.8"/>
<line x1="336.77" y1="250.50" x2="336.77" y2="368.40" stroke="#e2e2e2" stroke-width="0.8"/>
<line x1="361.13" y1="250.50" x2="361.13" y2="368.40" stroke="#e2e2e2" stroke-width="0.8"/>
<line x1="239.30" y1="270.15" x2="385.50" y2="270.15" stroke="#e2e2e2" stroke-width="0.8"/>
<line x1="239.30" y1="289.80" x2="385.50" y2="289.80" stroke="#e2e2e2" stroke-width="0.8"/>
<line x1="239.30" y1="309.45" x2="385.50" y2="309.45" stroke="#e2e2e2" stroke-width="0.8"/>
<line x1="239.30" y1="329.10" x2="385.50" y2="329.10" stroke="#e2e2e2" stroke-width="0.8"/>
<line x1="239.30" y1="348.75" x2="385.50" y2="348.75" stroke="#e2e2e2" stroke-width="0.8"/>
<line x1="239.30" y1="368.40" x2="239.30" y2="366.20" stroke="#333" stroke-width="0.8"/>
<line x1="251.48" y1="368.40" x2="251.48" y2="367.10" stroke="#333" stroke-width="0.7"/>
<line x1="263.67" y1="368.40" x2="263.67" y2="366.20" stroke="#333" stroke-width="0.8"/>
<line x1="275.85" y1="368.40" x2="275.85" y2="367.10" stroke="#333" stroke-width="0.7"/>
<line x1="288.03" y1="368.40" x2="288.03" y2="366.20" stroke="#333" stroke-width="0.8"/>
<line x1="300.22" y1="368.40" x2="300.22" y2="367.10" stroke="#333" stroke-width="0.7"/>
<line x1="312.40" y1="368.40" x2="312.40" y2="366.20" stroke="#333" stroke-width="0.8"/>
<line x1="324.58" y1="368.40" x2="324.58" y2="367.10" stroke="#333" stroke-width="0.7"/>
<line x1="336.77" y1="368.40" x2="336.77" y2="366.20" stroke="#333" stroke-width="0.8"/>
<line x1="348.95" y1="368.40" x2="348.95" y2="367.10" stroke="#333" stroke-width="0.7"/>
<line x1="361.13" y1="368.40" x2="361.13" y2="366.20" stroke="#333" stroke-width="0.8"/>
<line x1="373.32" y1="368.40" x2="373.32" y2="367.10" stroke="#333" stroke-width="0.7"/>
<line x1="385.50" y1="368.40" x2="385.50" y2="366.20" stroke="#333" stroke-width="0.8"/>
<line x1="239.30" y1="250.50" x2="241.50" y2="250.50" stroke="#333" stroke-width="0.8"/>
<line x1="239.30" y1="260.32" x2="240.60" y2="260.32" stroke="#333" stroke-width="0.7"/>
<line x1="239.30" y1="270.15" x2="241.50" y2="270.15" stroke="#333" stroke-width="0.8"/>
<line x1="239.30" y1="279.97" x2="240.60" y2="279.97" stroke="#333" stroke-width="0.7"/>
<line x1="239.30" y1="289.80" x2="241.50" y2="289.80" stroke="#333" stroke-width="0.8"/>
<line x1="239.30" y1="299.62" x2="240.60" y2="299.62" stroke="#333" stroke-width="0.7"/>
<line x1="239.30" y1="309.45" x2="241.50" y2="309.45" stroke="#333" stroke-width="0.8"/>
<line x1="239.30" y1="319.27" x2="240.60" y2="319.27" stroke="#333" stroke-width="0.7"/>
<line x1="239.30" y1="329.10" x2="241.50" y2="329.10" stroke="#333" stroke-width="0.8"/>
<line x1="239.30" y1="338.92" x2="240.60" y2="338.92" stroke="#333" stroke-width="0.7"/>
<line x1="239.30" y1="348.75" x2="241.50" y2="348.75" stroke="#333" stroke-width="0.8"/>
<line x1="239.30" y1="358.57" x2="240.60" y2="358.57" stroke="#333" stroke-width="0.7"/>
<line x1="239.30" y1="368.40" x2="241.50" y2="368.40" stroke="#333" stroke-width="0.8"/>
<line x1="239.30" y1="378.22" x2="240.60" y2="378.22" stroke="#333" stroke-width="0.7"/>
<circle cx="281.00" cy="276.60" r="2.4" fill="url(#gb)"/>
<circle cx="290.20" cy="273.80" r="2.4" fill="url(#gb)"/>
<circle cx="293.20" cy="283.90" r="2.4" fill="url(#gb)"/>
<circle cx="289.20" cy="301.20" r="2.4" fill="url(#gb)"/>
<circle cx="262.60" cy="310.50" r="2.4" fill="url(#gb)"/>
<circle cx="279.30" cy="312.90" r="2.4" fill="url(#gb)"/>
<circle cx="303.80" cy="322.90" r="2.4" fill="url(#gb)"/>
<circle cx="310.20" cy="323.90" r="2.4" fill="url(#gb)"/>
<circle cx="276.60" cy="330.30" r="2.4" fill="url(#gb)"/>
<circle cx="295.80" cy="335.20" r="2.4" fill="url(#gb)"/>
<circle cx="287.50" cy="341.80" r="2.4" fill="url(#gb)"/>
<circle cx="309.90" cy="341.50" r="2.4" fill="url(#gb)"/>
<circle cx="264.80" cy="353.40" r="2.4" fill="url(#gb)"/>
<circle cx="317.90" cy="361.40" r="2.4" fill="url(#gb)"/>
<circle cx="342.70" cy="304.40" r="2.4" fill="url(#gb)"/>
<circle cx="334.80" cy="322.90" r="2.4" fill="url(#gb)"/>
<circle cx="343.90" cy="328.80" r="2.4" fill="url(#gb)"/>
<circle cx="324.20" cy="331.20" r="2.4" fill="url(#gb)"/>
<circle cx="331.60" cy="331.80" r="2.4" fill="url(#gb)"/>
<circle cx="323.20" cy="335.00" r="2.4" fill="url(#gb)"/>
<circle cx="298.00" cy="279.70" r="2.4" fill="url(#gr)"/>
<circle cx="300.20" cy="283.10" r="2.4" fill="url(#gr)"/>
<circle cx="298.60" cy="286.30" r="2.4" fill="url(#gr)"/>
<circle cx="297.00" cy="290.40" r="2.4" fill="url(#gr)"/>
<circle cx="293.60" cy="305.20" r="2.4" fill="url(#gr)"/>
<circle cx="289.20" cy="331.60" r="2.4" fill="url(#gr)"/>
<circle cx="319.80" cy="319.60" r="2.4" fill="url(#gr)"/>
<circle cx="331.20" cy="257.30" r="2.4" fill="url(#gr)"/>
<circle cx="316.70" cy="272.90" r="2.4" fill="url(#gr)"/>
<circle cx="319.10" cy="274.10" r="2.4" fill="url(#gr)"/>
<circle cx="316.60" cy="277.40" r="2.4" fill="url(#gr)"/>
<circle cx="321.60" cy="295.00" r="2.4" fill="url(#gr)"/>
<circle cx="325.10" cy="297.80" r="2.4" fill="url(#gr)"/>
<circle cx="323.60" cy="298.60" r="2.4" fill="url(#gr)"/>
<circle cx="341.70" cy="299.60" r="2.4" fill="url(#gr)"/>
<circle cx="364.50" cy="298.40" r="2.4" fill="url(#gr)"/>
<circle cx="324.40" cy="317.20" r="2.4" fill="url(#gr)"/>
<circle cx="359.20" cy="315.40" r="2.4" fill="url(#gr)"/>
<circle cx="352.40" cy="324.70" r="2.4" fill="url(#gr)"/>
<circle cx="340.50" cy="335.30" r="2.4" fill="url(#gr)"/>
<rect x="239.3" y="250.5" width="146.2" height="117.89999999999998" fill="none" stroke="#2a2a2a" stroke-width="1.2"/>
<text x="239.30" y="378.10" font-size="8.1" font-weight="bold" text-anchor="middle" fill="#000" stroke="#000" stroke-width="0.22">-1.5</text>
<text x="263.67" y="378.10" font-size="8.1" font-weight="bold" text-anchor="middle" fill="#000" stroke="#000" stroke-width="0.22">-1.0</text>
<text x="288.03" y="378.10" font-size="8.1" font-weight="bold" text-anchor="middle" fill="#000" stroke="#000" stroke-width="0.22">-0.5</text>
<text x="312.40" y="378.10" font-size="8.1" font-weight="bold" text-anchor="middle" fill="#000" stroke="#000" stroke-width="0.22">0.0</text>
<text x="336.77" y="378.10" font-size="8.1" font-weight="bold" text-anchor="middle" fill="#000" stroke="#000" stroke-width="0.22">0.5</text>
<text x="361.13" y="378.10" font-size="8.1" font-weight="bold" text-anchor="middle" fill="#000" stroke="#000" stroke-width="0.22">1.0</text>
<text x="385.50" y="378.10" font-size="8.1" font-weight="bold" text-anchor="middle" fill="#000" stroke="#000" stroke-width="0.22">1.5</text>
<text x="236.80" y="253.17" font-size="8.1" font-weight="bold" text-anchor="end" fill="#000" stroke="#000" stroke-width="0.22">0.3</text>
<text x="236.80" y="272.82" font-size="8.1" font-weight="bold" text-anchor="end" fill="#000" stroke="#000" stroke-width="0.22">0.2</text>
<text x="236.80" y="292.47" font-size="8.1" font-weight="bold" text-anchor="end" fill="#000" stroke="#000" stroke-width="0.22">0.1</text>
<text x="236.80" y="312.12" font-size="8.1" font-weight="bold" text-anchor="end" fill="#000" stroke="#000" stroke-width="0.22">0.0</text>
<text x="236.80" y="331.77" font-size="8.1" font-weight="bold" text-anchor="end" fill="#000" stroke="#000" stroke-width="0.22">-0.1</text>
<text x="236.80" y="351.42" font-size="8.1" font-weight="bold" text-anchor="end" fill="#000" stroke="#000" stroke-width="0.22">-0.2</text>
<text x="236.80" y="371.07" font-size="8.1" font-weight="bold" text-anchor="end" fill="#000" stroke="#000" stroke-width="0.22">-0.3</text>
<circle cx="238.60" cy="241.10" r="2.3" fill="url(#gb)"/>
<text x="250.20" y="244.50" font-size="7.7" font-weight="bold" text-anchor="start" fill="#000" stroke="#000" stroke-width="0.22">cerebral infarction</text>
<circle cx="318.90" cy="241.80" r="2.3" fill="url(#gr)"/>
<text x="329.30" y="244.50" font-size="7.7" font-weight="bold" text-anchor="start" fill="#000" stroke="#000" stroke-width="0.22">cerebral hemorrhage</text>
<text x="312.60" y="392.90" font-size="9.8" font-weight="bold" text-anchor="middle" fill="#000" stroke="#000" stroke-width="0.22">First dimension</text>
<text x="0.00" y="0.00" font-size="9.8" font-weight="bold" text-anchor="middle" fill="#000" transform="translate(221.00,309.90) rotate(-90)" stroke="#000" stroke-width="0.22">Second dimension</text>
<line x1="260.67" y1="466.30" x2="260.67" y2="582.60" stroke="#e2e2e2" stroke-width="0.8"/>
<line x1="284.83" y1="466.30" x2="284.83" y2="582.60" stroke="#e2e2e2" stroke-width="0.8"/>
<line x1="309.00" y1="466.30" x2="309.00" y2="582.60" stroke="#e2e2e2" stroke-width="0.8"/>
<line x1="333.17" y1="466.30" x2="333.17" y2="582.60" stroke="#e2e2e2" stroke-width="0.8"/>
<line x1="357.33" y1="466.30" x2="357.33" y2="582.60" stroke="#e2e2e2" stroke-width="0.8"/>
<line x1="236.50" y1="485.68" x2="381.50" y2="485.68" stroke="#e2e2e2" stroke-width="0.8"/>
<line x1="236.50" y1="505.07" x2="381.50" y2="505.07" stroke="#e2e2e2" stroke-width="0.8"/>
<line x1="236.50" y1="524.45" x2="381.50" y2="524.45" stroke="#e2e2e2" stroke-width="0.8"/>
<line x1="236.50" y1="543.83" x2="381.50" y2="543.83" stroke="#e2e2e2" stroke-width="0.8"/>
<line x1="236.50" y1="563.22" x2="381.50" y2="563.22" stroke="#e2e2e2" stroke-width="0.8"/>
<line x1="236.50" y1="582.60" x2="236.50" y2="580.40" stroke="#333" stroke-width="0.8"/>
<line x1="248.58" y1="582.60" x2="248.58" y2="581.30" stroke="#333" stroke-width="0.7"/>
<line x1="260.67" y1="582.60" x2="260.67" y2="580.40" stroke="#333" stroke-width="0.8"/>
<line x1="272.75" y1="582.60" x2="272.75" y2="581.30" stroke="#333" stroke-width="0.7"/>
<line x1="284.83" y1="582.60" x2="284.83" y2="580.40" stroke="#333" stroke-width="0.8"/>
<line x1="296.92" y1="582.60" x2="296.92" y2="581.30" stroke="#333" stroke-width="0.7"/>
<line x1="309.00" y1="582.60" x2="309.00" y2="580.40" stroke="#333" stroke-width="0.8"/>
<line x1="321.08" y1="582.60" x2="321.08" y2="581.30" stroke="#333" stroke-width="0.7"/>
<line x1="333.17" y1="582.60" x2="333.17" y2="580.40" stroke="#333" stroke-width="0.8"/>
<line x1="345.25" y1="582.60" x2="345.25" y2="581.30" stroke="#333" stroke-width="0.7"/>
<line x1="357.33" y1="582.60" x2="357.33" y2="580.40" stroke="#333" stroke-width="0.8"/>
<line x1="369.42" y1="582.60" x2="369.42" y2="581.30" stroke="#333" stroke-width="0.7"/>
<line x1="381.50" y1="582.60" x2="381.50" y2="580.40" stroke="#333" stroke-width="0.8"/>
<line x1="236.50" y1="466.30" x2="238.70" y2="466.30" stroke="#333" stroke-width="0.8"/>
<line x1="236.50" y1="475.99" x2="237.80" y2="475.99" stroke="#333" stroke-width="0.7"/>
<line x1="236.50" y1="485.68" x2="238.70" y2="485.68" stroke="#333" stroke-width="0.8"/>
<line x1="236.50" y1="495.38" x2="237.80" y2="495.38" stroke="#333" stroke-width="0.7"/>
<line x1="236.50" y1="505.07" x2="238.70" y2="505.07" stroke="#333" stroke-width="0.8"/>
<line x1="236.50" y1="514.76" x2="237.80" y2="514.76" stroke="#333" stroke-width="0.7"/>
<line x1="236.50" y1="524.45" x2="238.70" y2="524.45" stroke="#333" stroke-width="0.8"/>
<line x1="236.50" y1="534.14" x2="237.80" y2="534.14" stroke="#333" stroke-width="0.7"/>
<line x1="236.50" y1="543.83" x2="238.70" y2="543.83" stroke="#333" stroke-width="0.8"/>
<line x1="236.50" y1="553.52" x2="237.80" y2="553.52" stroke="#333" stroke-width="0.7"/>
<line x1="236.50" y1="563.22" x2="238.70" y2="563.22" stroke="#333" stroke-width="0.8"/>
<line x1="236.50" y1="572.91" x2="237.80" y2="572.91" stroke="#333" stroke-width="0.7"/>
<line x1="236.50" y1="582.60" x2="238.70" y2="582.60" stroke="#333" stroke-width="0.8"/>
<line x1="236.50" y1="592.29" x2="237.80" y2="592.29" stroke="#333" stroke-width="0.7"/>
<circle cx="268.60" cy="481.10" r="2.4" fill="url(#gb)"/>
<circle cx="239.60" cy="536.10" r="2.4" fill="url(#gb)"/>
<circle cx="264.20" cy="526.60" r="2.4" fill="url(#gb)"/>
<circle cx="265.00" cy="534.10" r="2.4" fill="url(#gb)"/>
<circle cx="273.00" cy="543.10" r="2.4" fill="url(#gb)"/>
<circle cx="281.00" cy="532.40" r="2.4" fill="url(#gb)"/>
<circle cx="288.40" cy="531.30" r="2.4" fill="url(#gb)"/>
<circle cx="297.40" cy="529.00" r="2.4" fill="url(#gb)"/>
<circle cx="299.70" cy="543.30" r="2.4" fill="url(#gb)"/>
<circle cx="283.80" cy="554.10" r="2.4" fill="url(#gb)"/>
<circle cx="284.70" cy="558.10" r="2.4" fill="url(#gb)"/>
<circle cx="290.80" cy="556.10" r="2.4" fill="url(#gb)"/>
<circle cx="267.70" cy="566.00" r="2.4" fill="url(#gb)"/>
<circle cx="271.70" cy="567.40" r="2.4" fill="url(#gb)"/>
<circle cx="347.30" cy="544.10" r="2.4" fill="url(#gb)"/>
<circle cx="323.50" cy="551.80" r="2.4" fill="url(#gb)"/>
<circle cx="340.00" cy="553.10" r="2.4" fill="url(#gb)"/>
<circle cx="325.10" cy="558.30" r="2.4" fill="url(#gb)"/>
<circle cx="327.60" cy="560.60" r="2.4" fill="url(#gb)"/>
<circle cx="379.20" cy="569.70" r="2.4" fill="url(#gb)"/>
<circle cx="290.60" cy="478.70" r="2.4" fill="url(#gr)"/>
<circle cx="298.90" cy="482.10" r="2.4" fill="url(#gr)"/>
<circle cx="293.50" cy="485.90" r="2.4" fill="url(#gr)"/>
<circle cx="284.70" cy="490.90" r="2.4" fill="url(#gr)"/>
<circle cx="309.40" cy="487.20" r="2.4" fill="url(#gr)"/>
<circle cx="312.00" cy="483.40" r="2.4" fill="url(#gr)"/>
<circle cx="292.40" cy="511.20" r="2.4" fill="url(#gr)"/>
<circle cx="302.00" cy="512.90" r="2.4" fill="url(#gr)"/>
<circle cx="305.80" cy="516.10" r="2.4" fill="url(#gr)"/>
<circle cx="322.60" cy="474.20" r="2.4" fill="url(#gr)"/>
<circle cx="350.60" cy="472.70" r="2.4" fill="url(#gr)"/>
<circle cx="340.50" cy="500.40" r="2.4" fill="url(#gr)"/>
<circle cx="318.00" cy="509.80" r="2.4" fill="url(#gr)"/>
<circle cx="338.40" cy="509.20" r="2.4" fill="url(#gr)"/>
<circle cx="356.60" cy="512.00" r="2.4" fill="url(#gr)"/>
<circle cx="326.80" cy="515.20" r="2.4" fill="url(#gr)"/>
<circle cx="355.30" cy="527.10" r="2.4" fill="url(#gr)"/>
<circle cx="328.40" cy="530.70" r="2.4" fill="url(#gr)"/>
<circle cx="352.30" cy="536.70" r="2.4" fill="url(#gr)"/>
<circle cx="356.00" cy="551.00" r="2.4" fill="url(#gr)"/>
<rect x="236.5" y="466.3" width="145.0" height="116.30000000000001" fill="none" stroke="#2a2a2a" stroke-width="1.2"/>
<text x="236.50" y="591.90" font-size="7.9" font-weight="bold" text-anchor="middle" fill="#000" stroke="#000" stroke-width="0.22">-1.5</text>
<text x="260.67" y="591.90" font-size="7.9" font-weight="bold" text-anchor="middle" fill="#000" stroke="#000" stroke-width="0.22">-1.0</text>
<text x="284.83" y="591.90" font-size="7.9" font-weight="bold" text-anchor="middle" fill="#000" stroke="#000" stroke-width="0.22">-0.5</text>
<text x="309.00" y="591.90" font-size="7.9" font-weight="bold" text-anchor="middle" fill="#000" stroke="#000" stroke-width="0.22">0.0</text>
<text x="333.17" y="591.90" font-size="7.9" font-weight="bold" text-anchor="middle" fill="#000" stroke="#000" stroke-width="0.22">0.5</text>
<text x="357.33" y="591.90" font-size="7.9" font-weight="bold" text-anchor="middle" fill="#000" stroke="#000" stroke-width="0.22">1.0</text>
<text x="381.50" y="591.90" font-size="7.9" font-weight="bold" text-anchor="middle" fill="#000" stroke="#000" stroke-width="0.22">1.5</text>
<text x="233.80" y="468.91" font-size="7.9" font-weight="bold" text-anchor="end" fill="#000" stroke="#000" stroke-width="0.22">0.3</text>
<text x="233.80" y="488.29" font-size="7.9" font-weight="bold" text-anchor="end" fill="#000" stroke="#000" stroke-width="0.22">0.2</text>
<text x="233.80" y="507.67" font-size="7.9" font-weight="bold" text-anchor="end" fill="#000" stroke="#000" stroke-width="0.22">0.1</text>
<text x="233.80" y="527.06" font-size="7.9" font-weight="bold" text-anchor="end" fill="#000" stroke="#000" stroke-width="0.22">0.0</text>
<text x="233.80" y="546.44" font-size="7.9" font-weight="bold" text-anchor="end" fill="#000" stroke="#000" stroke-width="0.22">-0.1</text>
<text x="233.80" y="565.82" font-size="7.9" font-weight="bold" text-anchor="end" fill="#000" stroke="#000" stroke-width="0.22">-0.2</text>
<text x="233.80" y="585.21" font-size="7.9" font-weight="bold" text-anchor="end" fill="#000" stroke="#000" stroke-width="0.22">-0.3</text>
<circle cx="234.50" cy="457.00" r="2.3" fill="url(#gb)"/>
<text x="245.10" y="460.50" font-size="7.7" font-weight="bold" text-anchor="start" fill="#000" stroke="#000" stroke-width="0.22">cerebral infarction</text>
<circle cx="315.40" cy="457.60" r="2.3" fill="url(#gr)"/>
<text x="326.20" y="460.50" font-size="7.7" font-weight="bold" text-anchor="start" fill="#000" stroke="#000" stroke-width="0.22">cerebral hemorrhage</text>
<text x="309.30" y="606.60" font-size="9.8" font-weight="bold" text-anchor="middle" fill="#000" stroke="#000" stroke-width="0.22">First dimension</text>
<text x="0.00" y="0.00" font-size="9.8" font-weight="bold" text-anchor="middle" fill="#000" transform="translate(217.60,524.40) rotate(-90)" stroke="#000" stroke-width="0.22">Second dimension</text>
<rect x="423.75" y="124.85" width="11.70" height="29.55" fill="#0000ff" stroke="none" stroke-width="0"/>
<rect x="438.47" y="124.85" width="11.70" height="29.55" fill="#0000ff" stroke="none" stroke-width="0"/>
<rect x="453.19" y="50.98" width="11.70" height="103.42" fill="#0000ff" stroke="none" stroke-width="0"/>
<rect x="467.91" y="95.30" width="11.70" height="59.10" fill="#0000ff" stroke="none" stroke-width="0"/>
<rect x="482.63" y="110.08" width="11.70" height="44.33" fill="#0000ff" stroke="none" stroke-width="0"/>
<rect x="497.35" y="80.53" width="11.70" height="73.88" fill="#ff0000" stroke="none" stroke-width="0"/>
<rect x="497.35" y="139.62" width="11.70" height="14.78" fill="#0000ff" stroke="none" stroke-width="0"/>
<rect x="512.07" y="80.53" width="11.70" height="73.88" fill="#ff0000" stroke="none" stroke-width="0"/>
<rect x="512.07" y="139.62" width="11.70" height="14.78" fill="#0000ff" stroke="none" stroke-width="0"/>
<rect x="526.79" y="110.08" width="11.70" height="44.33" fill="#ff0000" stroke="none" stroke-width="0"/>
<rect x="541.51" y="95.30" width="11.70" height="59.10" fill="#ff0000" stroke="none" stroke-width="0"/>
<rect x="556.23" y="80.53" width="11.70" height="73.88" fill="#ff0000" stroke="none" stroke-width="0"/>
<rect x="422.5" y="36.2" width="146.79999999999995" height="118.2" fill="none" stroke="#2a2a2a" stroke-width="1.2"/>
<line x1="422.50" y1="154.40" x2="424.70" y2="154.40" stroke="#333" stroke-width="0.8"/>
<line x1="422.50" y1="147.01" x2="423.80" y2="147.01" stroke="#333" stroke-width="0.7"/>
<text x="420.10" y="156.88" font-size="7.5" font-weight="bold" text-anchor="end" fill="#000" stroke="#000" stroke-width="0.22">0</text>
<line x1="422.50" y1="139.62" x2="424.70" y2="139.62" stroke="#333" stroke-width="0.8"/>
<line x1="422.50" y1="132.24" x2="423.80" y2="132.24" stroke="#333" stroke-width="0.7"/>
<text x="420.10" y="142.10" font-size="7.5" font-weight="bold" text-anchor="end" fill="#000" stroke="#000" stroke-width="0.22">1</text>
<line x1="422.50" y1="124.85" x2="424.70" y2="124.85" stroke="#333" stroke-width="0.8"/>
<line x1="422.50" y1="117.46" x2="423.80" y2="117.46" stroke="#333" stroke-width="0.7"/>
<text x="420.10" y="127.33" font-size="7.5" font-weight="bold" text-anchor="end" fill="#000" stroke="#000" stroke-width="0.22">2</text>
<line x1="422.50" y1="110.08" x2="424.70" y2="110.08" stroke="#333" stroke-width="0.8"/>
<line x1="422.50" y1="102.69" x2="423.80" y2="102.69" stroke="#333" stroke-width="0.7"/>
<text x="420.10" y="112.55" font-size="7.5" font-weight="bold" text-anchor="end" fill="#000" stroke="#000" stroke-width="0.22">3</text>
<line x1="422.50" y1="95.30" x2="424.70" y2="95.30" stroke="#333" stroke-width="0.8"/>
<line x1="422.50" y1="87.91" x2="423.80" y2="87.91" stroke="#333" stroke-width="0.7"/>
<text x="420.10" y="97.78" font-size="7.5" font-weight="bold" text-anchor="end" fill="#000" stroke="#000" stroke-width="0.22">4</text>
<line x1="422.50" y1="80.53" x2="424.70" y2="80.53" stroke="#333" stroke-width="0.8"/>
<line x1="422.50" y1="73.14" x2="423.80" y2="73.14" stroke="#333" stroke-width="0.7"/>
<text x="420.10" y="83.00" font-size="7.5" font-weight="bold" text-anchor="end" fill="#000" stroke="#000" stroke-width="0.22">5</text>
<line x1="422.50" y1="65.75" x2="424.70" y2="65.75" stroke="#333" stroke-width="0.8"/>
<line x1="422.50" y1="58.36" x2="423.80" y2="58.36" stroke="#333" stroke-width="0.7"/>
<text x="420.10" y="68.22" font-size="7.5" font-weight="bold" text-anchor="end" fill="#000" stroke="#000" stroke-width="0.22">6</text>
<line x1="422.50" y1="50.98" x2="424.70" y2="50.98" stroke="#333" stroke-width="0.8"/>
<line x1="422.50" y1="43.59" x2="423.80" y2="43.59" stroke="#333" stroke-width="0.7"/>
<text x="420.10" y="53.45" font-size="7.5" font-weight="bold" text-anchor="end" fill="#000" stroke="#000" stroke-width="0.22">7</text>
<line x1="422.50" y1="36.20" x2="424.70" y2="36.20" stroke="#333" stroke-width="0.8"/>
<text x="420.10" y="38.68" font-size="7.5" font-weight="bold" text-anchor="end" fill="#000" stroke="#000" stroke-width="0.22">8</text>
<line x1="429.60" y1="154.40" x2="429.60" y2="156.20" stroke="#333" stroke-width="0.8"/>
<text x="429.60" y="162.60" font-size="7.5" font-weight="bold" text-anchor="middle" fill="#000" stroke="#000" stroke-width="0.22">-3</text>
<line x1="444.32" y1="154.40" x2="444.32" y2="156.20" stroke="#333" stroke-width="0.8"/>
<text x="444.32" y="162.60" font-size="7.5" font-weight="bold" text-anchor="middle" fill="#000" stroke="#000" stroke-width="0.22">-2.4</text>
<line x1="459.04" y1="154.40" x2="459.04" y2="156.20" stroke="#333" stroke-width="0.8"/>
<text x="459.04" y="162.60" font-size="7.5" font-weight="bold" text-anchor="middle" fill="#000" stroke="#000" stroke-width="0.22">-1.8</text>
<line x1="473.76" y1="154.40" x2="473.76" y2="156.20" stroke="#333" stroke-width="0.8"/>
<text x="473.76" y="162.60" font-size="7.5" font-weight="bold" text-anchor="middle" fill="#000" stroke="#000" stroke-width="0.22">-1.2</text>
<line x1="488.48" y1="154.40" x2="488.48" y2="156.20" stroke="#333" stroke-width="0.8"/>
<text x="488.48" y="162.60" font-size="7.5" font-weight="bold" text-anchor="middle" fill="#000" stroke="#000" stroke-width="0.22">-0.6</text>
<line x1="503.20" y1="154.40" x2="503.20" y2="156.20" stroke="#333" stroke-width="0.8"/>
<text x="503.20" y="162.60" font-size="7.5" font-weight="bold" text-anchor="middle" fill="#000" stroke="#000" stroke-width="0.22">0</text>
<line x1="517.92" y1="154.40" x2="517.92" y2="156.20" stroke="#333" stroke-width="0.8"/>
<text x="517.92" y="162.60" font-size="7.5" font-weight="bold" text-anchor="middle" fill="#000" stroke="#000" stroke-width="0.22">0.6</text>
<line x1="532.64" y1="154.40" x2="532.64" y2="156.20" stroke="#333" stroke-width="0.8"/>
<text x="532.64" y="162.60" font-size="7.5" font-weight="bold" text-anchor="middle" fill="#000" stroke="#000" stroke-width="0.22">1.2</text>
<line x1="547.36" y1="154.40" x2="547.36" y2="156.20" stroke="#333" stroke-width="0.8"/>
<text x="547.36" y="162.60" font-size="7.5" font-weight="bold" text-anchor="middle" fill="#000" stroke="#000" stroke-width="0.22">1.8</text>
<line x1="562.08" y1="154.40" x2="562.08" y2="156.20" stroke="#333" stroke-width="0.8"/>
<text x="562.08" y="162.60" font-size="7.5" font-weight="bold" text-anchor="middle" fill="#000" stroke="#000" stroke-width="0.22">2.4</text>
<rect x="411.70" y="23.70" width="16.10" height="7.60" fill="#0000ff" stroke="none" stroke-width="0"/>
<text x="431.50" y="30.20" font-size="7.2" font-weight="bold" text-anchor="start" fill="#000" stroke="#000" stroke-width="0.22">cerebral infarction</text>
<rect x="498.60" y="23.70" width="16.10" height="7.60" fill="#ff0000" stroke="none" stroke-width="0"/>
<text x="519.00" y="30.20" font-size="7.2" font-weight="bold" text-anchor="start" fill="#000" stroke="#000" stroke-width="0.22">cerebral hemorrhage</text>
<text x="495.70" y="177.20" font-size="9.8" font-weight="bold" text-anchor="middle" fill="#000" stroke="#000" stroke-width="0.22">One dimension</text>
<text x="0.00" y="0.00" font-size="9.9" font-weight="bold" text-anchor="middle" fill="#000" transform="translate(413.80,95.50) rotate(-90)" stroke="#000" stroke-width="0.22">Frequency</text>
<rect x="426.55" y="310.20" width="11.90" height="59.20" fill="#0000ff" stroke="none" stroke-width="0"/>
<rect x="441.20" y="310.20" width="11.90" height="59.20" fill="#0000ff" stroke="none" stroke-width="0"/>
<rect x="455.85" y="310.20" width="11.90" height="59.20" fill="#0000ff" stroke="none" stroke-width="0"/>
<rect x="470.50" y="339.80" width="11.90" height="29.60" fill="#ff0000" stroke="none" stroke-width="0"/>
<rect x="470.50" y="354.60" width="11.90" height="14.80" fill="#0000ff" stroke="none" stroke-width="0"/>
<rect x="485.15" y="325.00" width="11.90" height="44.40" fill="#ff0000" stroke="none" stroke-width="0"/>
<rect x="485.15" y="354.60" width="11.90" height="14.80" fill="#0000ff" stroke="none" stroke-width="0"/>
<rect x="499.80" y="295.40" width="11.90" height="74.00" fill="#ff0000" stroke="none" stroke-width="0"/>
<rect x="499.80" y="310.20" width="11.90" height="59.20" fill="#0000ff" stroke="none" stroke-width="0"/>
<rect x="514.45" y="280.60" width="11.90" height="88.80" fill="#ff0000" stroke="none" stroke-width="0"/>
<rect x="514.45" y="339.80" width="11.90" height="29.60" fill="#0000ff" stroke="none" stroke-width="0"/>
<rect x="529.10" y="265.80" width="11.90" height="103.60" fill="#ff0000" stroke="none" stroke-width="0"/>
<rect x="543.75" y="339.80" width="11.90" height="29.60" fill="#ff0000" stroke="none" stroke-width="0"/>
<rect x="558.40" y="325.00" width="11.90" height="44.40" fill="#ff0000" stroke="none" stroke-width="0"/>
<rect x="424.9" y="251" width="146.30000000000007" height="118.39999999999998" fill="none" stroke="#2a2a2a" stroke-width="1.2"/>
<line x1="424.90" y1="369.40" x2="427.10" y2="369.40" stroke="#333" stroke-width="0.8"/>
<line x1="424.90" y1="362.00" x2="426.20" y2="362.00" stroke="#333" stroke-width="0.7"/>
<text x="422.30" y="371.88" font-size="7.5" font-weight="bold" text-anchor="end" fill="#000" stroke="#000" stroke-width="0.22">0</text>
<line x1="424.90" y1="354.60" x2="427.10" y2="354.60" stroke="#333" stroke-width="0.8"/>
<line x1="424.90" y1="347.20" x2="426.20" y2="347.20" stroke="#333" stroke-width="0.7"/>
<text x="422.30" y="357.07" font-size="7.5" font-weight="bold" text-anchor="end" fill="#000" stroke="#000" stroke-width="0.22">1</text>
<line x1="424.90" y1="339.80" x2="427.10" y2="339.80" stroke="#333" stroke-width="0.8"/>
<line x1="424.90" y1="332.40" x2="426.20" y2="332.40" stroke="#333" stroke-width="0.7"/>
<text x="422.30" y="342.27" font-size="7.5" font-weight="bold" text-anchor="end" fill="#000" stroke="#000" stroke-width="0.22">2</text>
<line x1="424.90" y1="325.00" x2="427.10" y2="325.00" stroke="#333" stroke-width="0.8"/>
<line x1="424.90" y1="317.60" x2="426.20" y2="317.60" stroke="#333" stroke-width="0.7"/>
<text x="422.30" y="327.48" font-size="7.5" font-weight="bold" text-anchor="end" fill="#000" stroke="#000" stroke-width="0.22">3</text>
<line x1="424.90" y1="310.20" x2="427.10" y2="310.20" stroke="#333" stroke-width="0.8"/>
<line x1="424.90" y1="302.80" x2="426.20" y2="302.80" stroke="#333" stroke-width="0.7"/>
<text x="422.30" y="312.68" font-size="7.5" font-weight="bold" text-anchor="end" fill="#000" stroke="#000" stroke-width="0.22">4</text>
<line x1="424.90" y1="295.40" x2="427.10" y2="295.40" stroke="#333" stroke-width="0.8"/>
<line x1="424.90" y1="288.00" x2="426.20" y2="288.00" stroke="#333" stroke-width="0.7"/>
<text x="422.30" y="297.88" font-size="7.5" font-weight="bold" text-anchor="end" fill="#000" stroke="#000" stroke-width="0.22">5</text>
<line x1="424.90" y1="280.60" x2="427.10" y2="280.60" stroke="#333" stroke-width="0.8"/>
<line x1="424.90" y1="273.20" x2="426.20" y2="273.20" stroke="#333" stroke-width="0.7"/>
<text x="422.30" y="283.08" font-size="7.5" font-weight="bold" text-anchor="end" fill="#000" stroke="#000" stroke-width="0.22">6</text>
<line x1="424.90" y1="265.80" x2="427.10" y2="265.80" stroke="#333" stroke-width="0.8"/>
<line x1="424.90" y1="258.40" x2="426.20" y2="258.40" stroke="#333" stroke-width="0.7"/>
<text x="422.30" y="268.28" font-size="7.5" font-weight="bold" text-anchor="end" fill="#000" stroke="#000" stroke-width="0.22">7</text>
<line x1="424.90" y1="251.00" x2="427.10" y2="251.00" stroke="#333" stroke-width="0.8"/>
<text x="422.30" y="253.47" font-size="7.5" font-weight="bold" text-anchor="end" fill="#000" stroke="#000" stroke-width="0.22">8</text>
<line x1="432.50" y1="369.40" x2="432.50" y2="371.20" stroke="#333" stroke-width="0.8"/>
<text x="432.50" y="377.90" font-size="7.5" font-weight="bold" text-anchor="middle" fill="#000" stroke="#000" stroke-width="0.22">-2.7</text>
<line x1="447.15" y1="369.40" x2="447.15" y2="371.20" stroke="#333" stroke-width="0.8"/>
<text x="447.15" y="377.90" font-size="7.5" font-weight="bold" text-anchor="middle" fill="#000" stroke="#000" stroke-width="0.22">-2.1</text>
<line x1="461.80" y1="369.40" x2="461.80" y2="371.20" stroke="#333" stroke-width="0.8"/>
<text x="461.80" y="377.90" font-size="7.5" font-weight="bold" text-anchor="middle" fill="#000" stroke="#000" stroke-width="0.22">-1.5</text>
<line x1="476.45" y1="369.40" x2="476.45" y2="371.20" stroke="#333" stroke-width="0.8"/>
<text x="476.45" y="377.90" font-size="7.5" font-weight="bold" text-anchor="middle" fill="#000" stroke="#000" stroke-width="0.22">-0.9</text>
<line x1="491.10" y1="369.40" x2="491.10" y2="371.20" stroke="#333" stroke-width="0.8"/>
<text x="491.10" y="377.90" font-size="7.5" font-weight="bold" text-anchor="middle" fill="#000" stroke="#000" stroke-width="0.22">-0.3</text>
<line x1="505.75" y1="369.40" x2="505.75" y2="371.20" stroke="#333" stroke-width="0.8"/>
<text x="505.75" y="377.90" font-size="7.5" font-weight="bold" text-anchor="middle" fill="#000" stroke="#000" stroke-width="0.22">0.3</text>
<line x1="520.40" y1="369.40" x2="520.40" y2="371.20" stroke="#333" stroke-width="0.8"/>
<text x="520.40" y="377.90" font-size="7.5" font-weight="bold" text-anchor="middle" fill="#000" stroke="#000" stroke-width="0.22">0.9</text>
<line x1="535.05" y1="369.40" x2="535.05" y2="371.20" stroke="#333" stroke-width="0.8"/>
<text x="535.05" y="377.90" font-size="7.5" font-weight="bold" text-anchor="middle" fill="#000" stroke="#000" stroke-width="0.22">1.5</text>
<line x1="549.70" y1="369.40" x2="549.70" y2="371.20" stroke="#333" stroke-width="0.8"/>
<text x="549.70" y="377.90" font-size="7.5" font-weight="bold" text-anchor="middle" fill="#000" stroke="#000" stroke-width="0.22">2.1</text>
<line x1="564.35" y1="369.40" x2="564.35" y2="371.20" stroke="#333" stroke-width="0.8"/>
<text x="564.35" y="377.90" font-size="7.5" font-weight="bold" text-anchor="middle" fill="#000" stroke="#000" stroke-width="0.22">2.7</text>
<rect x="413.60" y="239.00" width="16.20" height="7.70" fill="#0000ff" stroke="none" stroke-width="0"/>
<text x="433.40" y="245.50" font-size="7.3" font-weight="bold" text-anchor="start" fill="#000" stroke="#000" stroke-width="0.22">cerebral infarction</text>
<rect x="501.30" y="239.00" width="16.20" height="7.70" fill="#ff0000" stroke="none" stroke-width="0"/>
<text x="521.10" y="245.50" font-size="7.3" font-weight="bold" text-anchor="start" fill="#000" stroke="#000" stroke-width="0.22">cerebral hemorrhage</text>
<text x="498.00" y="392.60" font-size="9.8" font-weight="bold" text-anchor="middle" fill="#000" stroke="#000" stroke-width="0.22">One dimension</text>
<text x="0.00" y="0.00" font-size="9.9" font-weight="bold" text-anchor="middle" fill="#000" transform="translate(414.80,309.80) rotate(-90)" stroke="#000" stroke-width="0.22">Frequency</text>
<rect x="424.50" y="546.10" width="11.60" height="36.20" fill="#0000ff" stroke="none" stroke-width="0"/>
<rect x="439.10" y="491.81" width="11.60" height="90.49" fill="#0000ff" stroke="none" stroke-width="0"/>
<rect x="453.70" y="473.71" width="11.60" height="108.59" fill="#0000ff" stroke="none" stroke-width="0"/>
<rect x="468.30" y="491.81" width="11.60" height="90.49" fill="#0000ff" stroke="none" stroke-width="0"/>
<rect x="482.90" y="491.81" width="11.60" height="90.49" fill="#ff0000" stroke="none" stroke-width="0"/>
<rect x="482.90" y="546.10" width="11.60" height="36.20" fill="#0000ff" stroke="none" stroke-width="0"/>
<rect x="497.50" y="528.00" width="11.60" height="54.30" fill="#ff0000" stroke="none" stroke-width="0"/>
<rect x="512.10" y="473.71" width="11.60" height="108.59" fill="#ff0000" stroke="none" stroke-width="0"/>
<rect x="526.70" y="473.71" width="11.60" height="108.59" fill="#ff0000" stroke="none" stroke-width="0"/>
<rect x="541.30" y="564.20" width="11.60" height="18.10" fill="#ff0000" stroke="none" stroke-width="0"/>
<rect x="555.90" y="564.20" width="11.60" height="18.10" fill="#ff0000" stroke="none" stroke-width="0"/>
<rect x="423.2" y="465.2" width="144.59999999999997" height="117.09999999999997" fill="none" stroke="#2a2a2a" stroke-width="1.2"/>
<line x1="423.20" y1="582.30" x2="425.40" y2="582.30" stroke="#333" stroke-width="0.8"/>
<line x1="423.20" y1="573.25" x2="424.50" y2="573.25" stroke="#333" stroke-width="0.7"/>
<text x="420.60" y="584.77" font-size="7.5" font-weight="bold" text-anchor="end" fill="#000" stroke="#000" stroke-width="0.22">0</text>
<line x1="423.20" y1="564.20" x2="425.40" y2="564.20" stroke="#333" stroke-width="0.8"/>
<line x1="423.20" y1="555.15" x2="424.50" y2="555.15" stroke="#333" stroke-width="0.7"/>
<text x="420.60" y="566.68" font-size="7.5" font-weight="bold" text-anchor="end" fill="#000" stroke="#000" stroke-width="0.22">1</text>
<line x1="423.20" y1="546.10" x2="425.40" y2="546.10" stroke="#333" stroke-width="0.8"/>
<line x1="423.20" y1="537.05" x2="424.50" y2="537.05" stroke="#333" stroke-width="0.7"/>
<text x="420.60" y="548.58" font-size="7.5" font-weight="bold" text-anchor="end" fill="#000" stroke="#000" stroke-width="0.22">2</text>
<line x1="423.20" y1="528.00" x2="425.40" y2="528.00" stroke="#333" stroke-width="0.8"/>
<line x1="423.20" y1="518.95" x2="424.50" y2="518.95" stroke="#333" stroke-width="0.7"/>
<text x="420.60" y="530.48" font-size="7.5" font-weight="bold" text-anchor="end" fill="#000" stroke="#000" stroke-width="0.22">3</text>
<line x1="423.20" y1="509.90" x2="425.40" y2="509.90" stroke="#333" stroke-width="0.8"/>
<line x1="423.20" y1="500.85" x2="424.50" y2="500.85" stroke="#333" stroke-width="0.7"/>
<text x="420.60" y="512.38" font-size="7.5" font-weight="bold" text-anchor="end" fill="#000" stroke="#000" stroke-width="0.22">4</text>
<line x1="423.20" y1="491.81" x2="425.40" y2="491.81" stroke="#333" stroke-width="0.8"/>
<line x1="423.20" y1="482.76" x2="424.50" y2="482.76" stroke="#333" stroke-width="0.7"/>
<text x="420.60" y="494.28" font-size="7.5" font-weight="bold" text-anchor="end" fill="#000" stroke="#000" stroke-width="0.22">5</text>
<line x1="423.20" y1="473.71" x2="425.40" y2="473.71" stroke="#333" stroke-width="0.8"/>
<text x="420.60" y="476.18" font-size="7.5" font-weight="bold" text-anchor="end" fill="#000" stroke="#000" stroke-width="0.22">6</text>
<line x1="430.30" y1="582.30" x2="430.30" y2="584.10" stroke="#333" stroke-width="0.8"/>
<text x="430.30" y="590.70" font-size="7.5" font-weight="bold" text-anchor="middle" fill="#000" stroke="#000" stroke-width="0.22">-2.4</text>
<line x1="444.90" y1="582.30" x2="444.90" y2="584.10" stroke="#333" stroke-width="0.8"/>
<text x="444.90" y="590.70" font-size="7.5" font-weight="bold" text-anchor="middle" fill="#000" stroke="#000" stroke-width="0.22">-1.8</text>
<line x1="459.50" y1="582.30" x2="459.50" y2="584.10" stroke="#333" stroke-width="0.8"/>
<text x="459.50" y="590.70" font-size="7.5" font-weight="bold" text-anchor="middle" fill="#000" stroke="#000" stroke-width="0.22">-1.2</text>
<line x1="474.10" y1="582.30" x2="474.10" y2="584.10" stroke="#333" stroke-width="0.8"/>
<text x="474.10" y="590.70" font-size="7.5" font-weight="bold" text-anchor="middle" fill="#000" stroke="#000" stroke-width="0.22">-0.6</text>
<line x1="488.70" y1="582.30" x2="488.70" y2="584.10" stroke="#333" stroke-width="0.8"/>
<text x="488.70" y="590.70" font-size="7.5" font-weight="bold" text-anchor="middle" fill="#000" stroke="#000" stroke-width="0.22">0</text>
<line x1="503.30" y1="582.30" x2="503.30" y2="584.10" stroke="#333" stroke-width="0.8"/>
<text x="503.30" y="590.70" font-size="7.5" font-weight="bold" text-anchor="middle" fill="#000" stroke="#000" stroke-width="0.22">0.6</text>
<line x1="517.90" y1="582.30" x2="517.90" y2="584.10" stroke="#333" stroke-width="0.8"/>
<text x="517.90" y="590.70" font-size="7.5" font-weight="bold" text-anchor="middle" fill="#000" stroke="#000" stroke-width="0.22">1.2</text>
<line x1="532.50" y1="582.30" x2="532.50" y2="584.10" stroke="#333" stroke-width="0.8"/>
<text x="532.50" y="590.70" font-size="7.5" font-weight="bold" text-anchor="middle" fill="#000" stroke="#000" stroke-width="0.22">1.8</text>
<line x1="547.10" y1="582.30" x2="547.10" y2="584.10" stroke="#333" stroke-width="0.8"/>
<text x="547.10" y="590.70" font-size="7.5" font-weight="bold" text-anchor="middle" fill="#000" stroke="#000" stroke-width="0.22">2.4</text>
<line x1="561.70" y1="582.30" x2="561.70" y2="584.10" stroke="#333" stroke-width="0.8"/>
<text x="561.70" y="590.70" font-size="7.5" font-weight="bold" text-anchor="middle" fill="#000" stroke="#000" stroke-width="0.22">3</text>
<rect x="412.90" y="453.30" width="16.30" height="7.70" fill="#0000ff" stroke="none" stroke-width="0"/>
<text x="432.60" y="459.60" font-size="7.1" font-weight="bold" text-anchor="start" fill="#000" stroke="#000" stroke-width="0.22">cerebral infarction</text>
<rect x="499.50" y="453.30" width="16.30" height="7.70" fill="#ff0000" stroke="none" stroke-width="0"/>
<text x="519.20" y="459.60" font-size="7.1" font-weight="bold" text-anchor="start" fill="#000" stroke="#000" stroke-width="0.22">cerebral hemorrhage</text>
<text x="495.30" y="605.20" font-size="9.8" font-weight="bold" text-anchor="middle" fill="#000" stroke="#000" stroke-width="0.22">One dimension</text>
<text x="0.00" y="0.00" font-size="9.9" font-weight="bold" text-anchor="middle" fill="#000" transform="translate(413.30,523.50) rotate(-90)" stroke="#000" stroke-width="0.22">Frequency</text>
<line x1="614.80" y1="36.70" x2="614.80" y2="162.20" stroke="#e6e6e6" stroke-width="0.7"/>
<line x1="653.80" y1="36.70" x2="653.80" y2="162.20" stroke="#e6e6e6" stroke-width="0.7"/>
<line x1="692.80" y1="36.70" x2="692.80" y2="162.20" stroke="#e6e6e6" stroke-width="0.7"/>
<line x1="731.80" y1="36.70" x2="731.80" y2="162.20" stroke="#e6e6e6" stroke-width="0.7"/>
<line x1="634.30" y1="36.70" x2="634.30" y2="162.20" stroke="#d8d8d8" stroke-width="0.8"/>
<line x1="673.30" y1="36.70" x2="673.30" y2="162.20" stroke="#d8d8d8" stroke-width="0.8"/>
<line x1="712.30" y1="36.70" x2="712.30" y2="162.20" stroke="#d8d8d8" stroke-width="0.8"/>
<line x1="601.50" y1="70.50" x2="736.30" y2="70.50" stroke="#e2e2e2" stroke-width="0.8"/>
<line x1="599.50" y1="70.50" x2="601.50" y2="70.50" stroke="#555" stroke-width="0.7"/>
<line x1="601.50" y1="128.40" x2="736.30" y2="128.40" stroke="#e2e2e2" stroke-width="0.8"/>
<line x1="599.50" y1="128.40" x2="601.50" y2="128.40" stroke="#555" stroke-width="0.7"/>
<path d="M670.30,61.70 L670.30,49.30 C670.88,48.68 672.35,46.60 673.80,45.60 C675.25,44.60 677.60,43.75 679.00,43.30 C680.40,42.85 680.95,42.78 682.20,42.90 C683.45,43.02 684.90,43.55 686.50,44.00 C688.10,44.45 690.38,45.30 691.80,45.60 C693.22,45.90 693.77,45.98 695.00,45.80 C696.23,45.62 697.62,44.98 699.20,44.50 C700.78,44.02 702.73,43.22 704.50,42.90 C706.27,42.58 708.05,42.50 709.80,42.60 C711.55,42.70 713.07,43.00 715.00,43.50 C716.93,44.00 719.45,44.90 721.40,45.60 C723.35,46.30 725.20,47.00 726.70,47.70 C728.20,48.40 729.78,49.45 730.40,49.80 L730.40,61.70 Z" fill="#f04444" stroke="#7a1a1a" stroke-width="0.6" stroke-linejoin="round"/>
<path d="M607.80,119.50 L607.80,114.20 C608.60,113.92 610.75,113.30 612.60,112.50 C614.45,111.70 616.80,110.65 618.90,109.40 C621.00,108.15 623.10,106.78 625.20,105.00 C627.30,103.22 629.42,100.45 631.50,98.70 C633.58,96.95 635.82,95.33 637.70,94.50 C639.58,93.67 641.12,93.63 642.80,93.70 C644.48,93.77 645.92,93.97 647.80,94.90 C649.68,95.83 652.00,97.62 654.10,99.30 C656.20,100.98 658.30,103.22 660.40,105.00 C662.50,106.78 664.60,108.75 666.70,110.00 C668.80,111.25 670.70,111.87 673.00,112.50 C675.30,113.13 678.20,113.38 680.50,113.80 C682.80,114.22 685.75,114.80 686.80,115.00 L686.80,119.50 Z" fill="#4242f0" stroke="#1a1a7a" stroke-width="0.6" stroke-linejoin="round"/>
<line x1="670.60" y1="69.65" x2="684.40" y2="69.65" stroke="#505050" stroke-width="0.8"/>
<line x1="715.30" y1="69.65" x2="730.40" y2="69.65" stroke="#505050" stroke-width="0.8"/>
<rect x="684.40" y="63.80" width="30.90" height="11.70" fill="#f8a2a2" stroke="#333" stroke-width="0.7"/>
<line x1="705.80" y1="63.80" x2="705.80" y2="75.50" stroke="#222" stroke-width="1.0"/>
<line x1="607.80" y1="126.80" x2="635.20" y2="126.80" stroke="#a8a8a8" stroke-width="1.3"/>
<line x1="656.40" y1="126.80" x2="686.80" y2="126.80" stroke="#a8a8a8" stroke-width="1.3"/>
<rect x="635.20" y="121.30" width="21.20" height="11.00" fill="#9c9cf6" stroke="#333" stroke-width="0.7"/>
<line x1="644.00" y1="121.30" x2="644.00" y2="132.30" stroke="#222" stroke-width="1.0"/>
<rect x="669.60" y="64.70" width="1.40" height="1.40" fill="#e83030" stroke="none" stroke-width="0"/>
<rect x="673.10" y="73.70" width="1.40" height="1.40" fill="#e83030" stroke="none" stroke-width="0"/>
<rect x="676.80" y="72.60" width="1.40" height="1.40" fill="#e83030" stroke="none" stroke-width="0"/>
<rect x="678.70" y="68.40" width="1.40" height="1.40" fill="#e83030" stroke="none" stroke-width="0"/>
<rect x="680.50" y="68.00" width="1.40" height="1.40" fill="#e83030" stroke="none" stroke-width="0"/>
<rect x="684.70" y="70.30" width="1.40" height="1.40" fill="#e83030" stroke="none" stroke-width="0"/>
<rect x="696.90" y="73.30" width="1.40" height="1.40" fill="#e83030" stroke="none" stroke-width="0"/>
<rect x="706.40" y="67.10" width="1.40" height="1.40" fill="#e83030" stroke="none" stroke-width="0"/>
<rect x="708.00" y="68.70" width="1.40" height="1.40" fill="#e83030" stroke="none" stroke-width="0"/>
<rect x="713.30" y="64.50" width="1.40" height="1.40" fill="#e83030" stroke="none" stroke-width="0"/>
<rect x="719.20" y="70.80" width="1.40" height="1.40" fill="#e83030" stroke="none" stroke-width="0"/>
<rect x="725.00" y="67.10" width="1.40" height="1.40" fill="#e83030" stroke="none" stroke-width="0"/>
<rect x="726.00" y="71.60" width="1.40" height="1.40" fill="#e83030" stroke="none" stroke-width="0"/>
<rect x="729.50" y="72.20" width="1.40" height="1.40" fill="#e83030" stroke="none" stroke-width="0"/>
<rect x="729.20" y="75.40" width="1.40" height="1.40" fill="#e83030" stroke="none" stroke-width="0"/>
<rect x="684.20" y="69.30" width="1.40" height="1.40" fill="#e83030" stroke="none" stroke-width="0"/>
<rect x="707.00" y="74.30" width="1.40" height="1.40" fill="#e83030" stroke="none" stroke-width="0"/>
<rect x="617.50" y="122.30" width="1.40" height="1.40" fill="#3030e8" stroke="none" stroke-width="0"/>
<rect x="607.10" y="129.50" width="1.40" height="1.40" fill="#3030e8" stroke="none" stroke-width="0"/>
<rect x="623.80" y="126.90" width="1.40" height="1.40" fill="#3030e8" stroke="none" stroke-width="0"/>
<rect x="623.80" y="130.70" width="1.40" height="1.40" fill="#3030e8" stroke="none" stroke-width="0"/>
<rect x="634.50" y="123.20" width="1.40" height="1.40" fill="#3030e8" stroke="none" stroke-width="0"/>
<rect x="635.80" y="130.10" width="1.40" height="1.40" fill="#3030e8" stroke="none" stroke-width="0"/>
<rect x="638.90" y="129.50" width="1.40" height="1.40" fill="#3030e8" stroke="none" stroke-width="0"/>
<rect x="647.10" y="130.70" width="1.40" height="1.40" fill="#3030e8" stroke="none" stroke-width="0"/>
<rect x="651.50" y="124.40" width="1.40" height="1.40" fill="#3030e8" stroke="none" stroke-width="0"/>
<rect x="654.70" y="126.90" width="1.40" height="1.40" fill="#3030e8" stroke="none" stroke-width="0"/>
<rect x="659.40" y="122.30" width="1.40" height="1.40" fill="#3030e8" stroke="none" stroke-width="0"/>
<rect x="659.10" y="124.80" width="1.40" height="1.40" fill="#3030e8" stroke="none" stroke-width="0"/>
<rect x="664.50" y="128.60" width="1.40" height="1.40" fill="#3030e8" stroke="none" stroke-width="0"/>
<rect x="675.80" y="132.90" width="1.40" height="1.40" fill="#3030e8" stroke="none" stroke-width="0"/>
<rect x="685.90" y="131.10" width="1.40" height="1.40" fill="#3030e8" stroke="none" stroke-width="0"/>
<rect x="601.5" y="36.7" width="134.79999999999995" height="125.49999999999999" fill="none" stroke="#7a7a7a" stroke-width="0.8"/>
<line x1="634.30" y1="162.20" x2="634.30" y2="163.70" stroke="#555" stroke-width="0.6"/>
<text x="634.30" y="168.80" font-size="5.6" font-weight="normal" text-anchor="middle" fill="#333">−2</text>
<line x1="673.30" y1="162.20" x2="673.30" y2="163.70" stroke="#555" stroke-width="0.6"/>
<text x="673.30" y="168.80" font-size="5.6" font-weight="normal" text-anchor="middle" fill="#333">0</text>
<line x1="712.30" y1="162.20" x2="712.30" y2="163.70" stroke="#555" stroke-width="0.6"/>
<text x="712.30" y="168.80" font-size="5.6" font-weight="normal" text-anchor="middle" fill="#333">2</text>
<rect x="608.20" y="25.80" width="5.40" height="5.00" fill="#2828c8" stroke="#202050" stroke-width="0.5"/>
<text x="619.40" y="30.40" font-size="5.9" font-weight="bold" text-anchor="start" fill="#000" stroke="#000" stroke-width="0.22">cerebral infarction</text>
<rect x="679.00" y="25.80" width="5.40" height="5.00" fill="#c82424" stroke="#502020" stroke-width="0.5"/>
<text x="690.20" y="30.40" font-size="5.9" font-weight="bold" text-anchor="start" fill="#000" stroke="#000" stroke-width="0.22">cerebral hemorrhage</text>
<text x="674.00" y="177.00" font-size="5.9" font-weight="bold" text-anchor="middle" fill="#000" stroke="#000" stroke-width="0.22">One dimension</text>
<text x="0.00" y="0.00" font-size="6.05" font-weight="bold" text-anchor="middle" fill="#000" transform="translate(596.50,66.50) rotate(-90)" stroke="#000" stroke-width="0.22">cerebral hemorrhage</text>
<text x="0.00" y="0.00" font-size="6.1" font-weight="bold" text-anchor="middle" fill="#000" transform="translate(596.50,125.10) rotate(-90)" stroke="#000" stroke-width="0.22">cerebral infarction</text>
<line x1="613.51" y1="248.90" x2="613.51" y2="375.60" stroke="#e6e6e6" stroke-width="0.7"/>
<line x1="637.09" y1="248.90" x2="637.09" y2="375.60" stroke="#e6e6e6" stroke-width="0.7"/>
<line x1="660.66" y1="248.90" x2="660.66" y2="375.60" stroke="#e6e6e6" stroke-width="0.7"/>
<line x1="684.24" y1="248.90" x2="684.24" y2="375.60" stroke="#e6e6e6" stroke-width="0.7"/>
<line x1="707.81" y1="248.90" x2="707.81" y2="375.60" stroke="#e6e6e6" stroke-width="0.7"/>
<line x1="731.39" y1="248.90" x2="731.39" y2="375.60" stroke="#e6e6e6" stroke-width="0.7"/>
<line x1="625.30" y1="248.90" x2="625.30" y2="375.60" stroke="#d8d8d8" stroke-width="0.8"/>
<line x1="648.88" y1="248.90" x2="648.88" y2="375.60" stroke="#d8d8d8" stroke-width="0.8"/>
<line x1="672.45" y1="248.90" x2="672.45" y2="375.60" stroke="#d8d8d8" stroke-width="0.8"/>
<line x1="696.02" y1="248.90" x2="696.02" y2="375.60" stroke="#d8d8d8" stroke-width="0.8"/>
<line x1="719.60" y1="248.90" x2="719.60" y2="375.60" stroke="#d8d8d8" stroke-width="0.8"/>
<line x1="603.60" y1="283.50" x2="740.70" y2="283.50" stroke="#e2e2e2" stroke-width="0.8"/>
<line x1="601.60" y1="283.50" x2="603.60" y2="283.50" stroke="#555" stroke-width="0.7"/>
<line x1="603.60" y1="341.50" x2="740.70" y2="341.50" stroke="#e2e2e2" stroke-width="0.8"/>
<line x1="601.60" y1="341.50" x2="603.60" y2="341.50" stroke="#555" stroke-width="0.7"/>
<path d="M650.10,274.80 L650.10,271.80 C651.68,271.47 657.02,270.73 659.60,269.80 C662.18,268.87 663.78,266.93 665.60,266.20 C667.42,265.47 668.85,265.30 670.50,265.40 C672.15,265.50 674.00,266.47 675.50,266.80 C677.00,267.13 677.85,267.97 679.50,267.40 C681.15,266.83 683.42,265.32 685.40,263.40 C687.38,261.48 689.57,258.08 691.40,255.90 C693.23,253.72 694.92,251.37 696.40,250.30 C697.88,249.23 698.98,249.17 700.30,249.50 C701.62,249.83 702.80,250.57 704.30,252.30 C705.80,254.03 707.65,257.82 709.30,259.90 C710.95,261.98 712.22,263.82 714.20,264.80 C716.18,265.78 718.72,265.70 721.20,265.80 C723.68,265.90 727.12,265.23 729.10,265.40 C731.08,265.57 732.27,266.40 733.10,266.80 C733.93,267.20 733.93,267.63 734.10,267.80 L734.10,274.80 Z" fill="#f04444" stroke="#7a1a1a" stroke-width="0.6" stroke-linejoin="round"/>
<path d="M609.90,332.50 L609.90,324.90 C610.23,324.57 610.57,323.67 611.90,322.90 C613.23,322.13 615.58,321.07 617.90,320.30 C620.22,319.53 623.48,318.63 625.80,318.30 C628.12,317.97 629.48,318.03 631.80,318.30 C634.12,318.57 637.05,319.23 639.70,319.90 C642.35,320.57 645.05,321.57 647.70,322.30 C650.35,323.03 652.95,324.03 655.60,324.30 C658.25,324.57 660.95,324.23 663.60,323.90 C666.25,323.57 668.85,322.57 671.50,322.30 C674.15,322.03 677.18,322.03 679.50,322.30 C681.82,322.57 684.25,323.47 685.40,323.90 C686.55,324.33 686.23,324.73 686.40,324.90 L686.40,332.50 Z" fill="#4242f0" stroke="#1a1a7a" stroke-width="0.6" stroke-linejoin="round"/>
<line x1="668.50" y1="282.55" x2="690.40" y2="282.55" stroke="#505050" stroke-width="0.8"/>
<line x1="708.30" y1="282.55" x2="734.10" y2="282.55" stroke="#505050" stroke-width="0.8"/>
<rect x="690.40" y="276.40" width="17.90" height="12.30" fill="#f8a2a2" stroke="#333" stroke-width="0.7"/>
<line x1="698.70" y1="276.40" x2="698.70" y2="288.70" stroke="#222" stroke-width="1.0"/>
<line x1="609.90" y1="340.30" x2="623.20" y2="340.30" stroke="#a8a8a8" stroke-width="1.3"/>
<line x1="673.50" y1="340.30" x2="686.40" y2="340.30" stroke="#a8a8a8" stroke-width="1.3"/>
<rect x="623.20" y="334.20" width="50.30" height="12.20" fill="#9c9cf6" stroke="#333" stroke-width="0.7"/>
<line x1="639.70" y1="334.20" x2="639.70" y2="346.40" stroke="#222" stroke-width="1.0"/>
<rect x="649.60" y="287.00" width="1.40" height="1.40" fill="#e83030" stroke="none" stroke-width="0"/>
<rect x="667.80" y="284.00" width="1.40" height="1.40" fill="#e83030" stroke="none" stroke-width="0"/>
<rect x="668.80" y="282.00" width="1.40" height="1.40" fill="#e83030" stroke="none" stroke-width="0"/>
<rect x="673.20" y="280.60" width="1.40" height="1.40" fill="#e83030" stroke="none" stroke-width="0"/>
<rect x="686.70" y="282.00" width="1.40" height="1.40" fill="#e83030" stroke="none" stroke-width="0"/>
<rect x="691.70" y="278.00" width="1.40" height="1.40" fill="#e83030" stroke="none" stroke-width="0"/>
<rect x="693.70" y="283.00" width="1.40" height="1.40" fill="#e83030" stroke="none" stroke-width="0"/>
<rect x="697.60" y="285.00" width="1.40" height="1.40" fill="#e83030" stroke="none" stroke-width="0"/>
<rect x="701.60" y="288.00" width="1.40" height="1.40" fill="#e83030" stroke="none" stroke-width="0"/>
<rect x="704.60" y="278.00" width="1.40" height="1.40" fill="#e83030" stroke="none" stroke-width="0"/>
<rect x="706.00" y="279.00" width="1.40" height="1.40" fill="#e83030" stroke="none" stroke-width="0"/>
<rect x="713.50" y="283.40" width="1.40" height="1.40" fill="#e83030" stroke="none" stroke-width="0"/>
<rect x="717.90" y="280.00" width="1.40" height="1.40" fill="#e83030" stroke="none" stroke-width="0"/>
<rect x="725.50" y="277.10" width="1.40" height="1.40" fill="#e83030" stroke="none" stroke-width="0"/>
<rect x="729.40" y="286.00" width="1.40" height="1.40" fill="#e83030" stroke="none" stroke-width="0"/>
<rect x="733.40" y="288.00" width="1.40" height="1.40" fill="#e83030" stroke="none" stroke-width="0"/>
<rect x="609.20" y="339.10" width="1.40" height="1.40" fill="#3030e8" stroke="none" stroke-width="0"/>
<rect x="615.20" y="346.10" width="1.40" height="1.40" fill="#3030e8" stroke="none" stroke-width="0"/>
<rect x="618.20" y="337.50" width="1.40" height="1.40" fill="#3030e8" stroke="none" stroke-width="0"/>
<rect x="620.20" y="338.70" width="1.40" height="1.40" fill="#3030e8" stroke="none" stroke-width="0"/>
<rect x="622.10" y="344.10" width="1.40" height="1.40" fill="#3030e8" stroke="none" stroke-width="0"/>
<rect x="623.10" y="346.10" width="1.40" height="1.40" fill="#3030e8" stroke="none" stroke-width="0"/>
<rect x="630.10" y="335.50" width="1.40" height="1.40" fill="#3030e8" stroke="none" stroke-width="0"/>
<rect x="629.50" y="345.70" width="1.40" height="1.40" fill="#3030e8" stroke="none" stroke-width="0"/>
<rect x="635.50" y="334.70" width="1.40" height="1.40" fill="#3030e8" stroke="none" stroke-width="0"/>
<rect x="636.70" y="341.10" width="1.40" height="1.40" fill="#3030e8" stroke="none" stroke-width="0"/>
<rect x="642.00" y="337.70" width="1.40" height="1.40" fill="#3030e8" stroke="none" stroke-width="0"/>
<rect x="646.00" y="340.70" width="1.40" height="1.40" fill="#3030e8" stroke="none" stroke-width="0"/>
<rect x="656.90" y="339.10" width="1.40" height="1.40" fill="#3030e8" stroke="none" stroke-width="0"/>
<rect x="661.90" y="342.70" width="1.40" height="1.40" fill="#3030e8" stroke="none" stroke-width="0"/>
<rect x="673.80" y="335.10" width="1.40" height="1.40" fill="#3030e8" stroke="none" stroke-width="0"/>
<rect x="672.80" y="345.10" width="1.40" height="1.40" fill="#3030e8" stroke="none" stroke-width="0"/>
<rect x="681.80" y="335.10" width="1.40" height="1.40" fill="#3030e8" stroke="none" stroke-width="0"/>
<rect x="685.10" y="345.50" width="1.40" height="1.40" fill="#3030e8" stroke="none" stroke-width="0"/>
<rect x="603.6" y="248.9" width="137.10000000000002" height="126.70000000000002" fill="none" stroke="#7a7a7a" stroke-width="0.8"/>
<line x1="625.30" y1="375.60" x2="625.30" y2="377.10" stroke="#555" stroke-width="0.6"/>
<text x="625.30" y="382.50" font-size="5.6" font-weight="normal" text-anchor="middle" fill="#333">−2</text>
<line x1="648.88" y1="375.60" x2="648.88" y2="377.10" stroke="#555" stroke-width="0.6"/>
<text x="648.88" y="382.50" font-size="5.6" font-weight="normal" text-anchor="middle" fill="#333">−1</text>
<line x1="672.45" y1="375.60" x2="672.45" y2="377.10" stroke="#555" stroke-width="0.6"/>
<text x="672.45" y="382.50" font-size="5.6" font-weight="normal" text-anchor="middle" fill="#333">0</text>
<line x1="696.02" y1="375.60" x2="696.02" y2="377.10" stroke="#555" stroke-width="0.6"/>
<text x="696.02" y="382.50" font-size="5.6" font-weight="normal" text-anchor="middle" fill="#333">1</text>
<line x1="719.60" y1="375.60" x2="719.60" y2="377.10" stroke="#555" stroke-width="0.6"/>
<text x="719.60" y="382.50" font-size="5.6" font-weight="normal" text-anchor="middle" fill="#333">2</text>
<rect x="612.60" y="238.70" width="5.20" height="5.00" fill="#2828c8" stroke="#202050" stroke-width="0.5"/>
<text x="622.90" y="243.60" font-size="6.0" font-weight="bold" text-anchor="start" fill="#000" stroke="#000" stroke-width="0.22">cerebral infarction</text>
<rect x="683.40" y="238.70" width="5.20" height="5.00" fill="#c82424" stroke="#502020" stroke-width="0.5"/>
<text x="694.60" y="243.60" font-size="6.0" font-weight="bold" text-anchor="start" fill="#000" stroke="#000" stroke-width="0.22">cerebral hemorrhage</text>
<text x="674.50" y="392.00" font-size="5.9" font-weight="bold" text-anchor="middle" fill="#000" stroke="#000" stroke-width="0.22">One dimension</text>
<text x="0.00" y="0.00" font-size="6.05" font-weight="bold" text-anchor="middle" fill="#000" transform="translate(598.70,279.30) rotate(-90)" stroke="#000" stroke-width="0.22">cerebral hemorrhage</text>
<text x="0.00" y="0.00" font-size="6.1" font-weight="bold" text-anchor="middle" fill="#000" transform="translate(598.70,338.90) rotate(-90)" stroke="#000" stroke-width="0.22">cerebral infarction</text>
<line x1="615.40" y1="461.90" x2="615.40" y2="586.90" stroke="#e6e6e6" stroke-width="0.7"/>
<line x1="651.40" y1="461.90" x2="651.40" y2="586.90" stroke="#e6e6e6" stroke-width="0.7"/>
<line x1="687.40" y1="461.90" x2="687.40" y2="586.90" stroke="#e6e6e6" stroke-width="0.7"/>
<line x1="723.40" y1="461.90" x2="723.40" y2="586.90" stroke="#e6e6e6" stroke-width="0.7"/>
<line x1="633.40" y1="461.90" x2="633.40" y2="586.90" stroke="#d8d8d8" stroke-width="0.8"/>
<line x1="669.40" y1="461.90" x2="669.40" y2="586.90" stroke="#d8d8d8" stroke-width="0.8"/>
<line x1="705.40" y1="461.90" x2="705.40" y2="586.90" stroke="#d8d8d8" stroke-width="0.8"/>
<line x1="741.40" y1="461.90" x2="741.40" y2="586.90" stroke="#d8d8d8" stroke-width="0.8"/>
<line x1="606.40" y1="495.40" x2="742.00" y2="495.40" stroke="#e2e2e2" stroke-width="0.8"/>
<line x1="604.40" y1="495.40" x2="606.40" y2="495.40" stroke="#555" stroke-width="0.7"/>
<line x1="606.40" y1="553.40" x2="742.00" y2="553.40" stroke="#e2e2e2" stroke-width="0.8"/>
<line x1="604.40" y1="553.40" x2="606.40" y2="553.40" stroke="#555" stroke-width="0.7"/>
<path d="M668.50,487.10 L668.50,476.80 C669.00,476.13 670.00,473.87 671.50,472.80 C673.00,471.73 675.18,471.07 677.50,470.40 C679.82,469.73 682.75,469.23 685.40,468.80 C688.05,468.37 691.08,468.18 693.40,467.80 C695.72,467.42 697.65,466.65 699.30,466.50 C700.95,466.35 701.63,466.18 703.30,466.90 C704.97,467.62 707.32,469.15 709.30,470.80 C711.28,472.45 713.22,474.97 715.20,476.80 C717.18,478.63 718.88,480.72 721.20,481.80 C723.52,482.88 726.62,482.88 729.10,483.30 C731.58,483.72 734.93,484.13 736.10,484.30 L736.10,487.10 Z" fill="#f04444" stroke="#7a1a1a" stroke-width="0.6" stroke-linejoin="round"/>
<path d="M612.30,544.40 L612.30,538.40 C613.23,538.08 615.98,537.35 617.90,536.50 C619.82,535.65 621.82,534.40 623.80,533.30 C625.78,532.20 627.80,530.80 629.80,529.90 C631.80,529.00 633.82,528.73 635.80,527.90 C637.78,527.07 640.05,526.05 641.70,524.90 C643.35,523.75 644.37,522.05 645.70,521.00 C647.03,519.95 648.53,518.87 649.70,518.60 C650.87,518.33 651.55,518.67 652.70,519.40 C653.85,520.13 655.12,521.42 656.60,523.00 C658.08,524.58 659.93,526.92 661.60,528.90 C663.27,530.88 665.28,533.42 666.60,534.90 C667.92,536.38 669.02,537.32 669.50,537.80 L669.50,544.40 Z" fill="#4242f0" stroke="#1a1a7a" stroke-width="0.6" stroke-linejoin="round"/>
<line x1="668.50" y1="494.65" x2="678.50" y2="494.65" stroke="#505050" stroke-width="0.8"/>
<line x1="703.70" y1="494.65" x2="736.10" y2="494.65" stroke="#505050" stroke-width="0.8"/>
<rect x="678.50" y="488.70" width="25.20" height="11.90" fill="#f8a2a2" stroke="#333" stroke-width="0.7"/>
<line x1="693.40" y1="488.70" x2="693.40" y2="500.60" stroke="#222" stroke-width="1.0"/>
<line x1="612.30" y1="551.75" x2="631.20" y2="551.75" stroke="#a8a8a8" stroke-width="1.3"/>
<line x1="652.70" y1="551.75" x2="669.50" y2="551.75" stroke="#a8a8a8" stroke-width="1.3"/>
<rect x="631.20" y="546.20" width="21.50" height="11.10" fill="#9c9cf6" stroke="#333" stroke-width="0.7"/>
<line x1="647.30" y1="546.20" x2="647.30" y2="557.30" stroke="#222" stroke-width="1.0"/>
<rect x="667.80" y="495.60" width="1.40" height="1.40" fill="#e83030" stroke="none" stroke-width="0"/>
<rect x="672.80" y="494.00" width="1.40" height="1.40" fill="#e83030" stroke="none" stroke-width="0"/>
<rect x="675.20" y="492.40" width="1.40" height="1.40" fill="#e83030" stroke="none" stroke-width="0"/>
<rect x="674.40" y="498.30" width="1.40" height="1.40" fill="#e83030" stroke="none" stroke-width="0"/>
<rect x="673.20" y="499.90" width="1.40" height="1.40" fill="#e83030" stroke="none" stroke-width="0"/>
<rect x="678.80" y="497.00" width="1.40" height="1.40" fill="#e83030" stroke="none" stroke-width="0"/>
<rect x="686.10" y="492.00" width="1.40" height="1.40" fill="#e83030" stroke="none" stroke-width="0"/>
<rect x="687.70" y="495.00" width="1.40" height="1.40" fill="#e83030" stroke="none" stroke-width="0"/>
<rect x="686.70" y="500.90" width="1.40" height="1.40" fill="#e83030" stroke="none" stroke-width="0"/>
<rect x="689.70" y="497.50" width="1.40" height="1.40" fill="#e83030" stroke="none" stroke-width="0"/>
<rect x="696.70" y="497.90" width="1.40" height="1.40" fill="#e83030" stroke="none" stroke-width="0"/>
<rect x="702.60" y="496.40" width="1.40" height="1.40" fill="#e83030" stroke="none" stroke-width="0"/>
<rect x="706.00" y="490.40" width="1.40" height="1.40" fill="#e83030" stroke="none" stroke-width="0"/>
<rect x="707.20" y="495.00" width="1.40" height="1.40" fill="#e83030" stroke="none" stroke-width="0"/>
<rect x="720.90" y="498.90" width="1.40" height="1.40" fill="#e83030" stroke="none" stroke-width="0"/>
<rect x="735.40" y="497.90" width="1.40" height="1.40" fill="#e83030" stroke="none" stroke-width="0"/>
<rect x="611.60" y="548.10" width="1.40" height="1.40" fill="#3030e8" stroke="none" stroke-width="0"/>
<rect x="613.20" y="555.00" width="1.40" height="1.40" fill="#3030e8" stroke="none" stroke-width="0"/>
<rect x="626.10" y="557.00" width="1.40" height="1.40" fill="#3030e8" stroke="none" stroke-width="0"/>
<rect x="628.10" y="550.10" width="1.40" height="1.40" fill="#3030e8" stroke="none" stroke-width="0"/>
<rect x="628.70" y="551.10" width="1.40" height="1.40" fill="#3030e8" stroke="none" stroke-width="0"/>
<rect x="635.10" y="551.70" width="1.40" height="1.40" fill="#3030e8" stroke="none" stroke-width="0"/>
<rect x="640.00" y="556.00" width="1.40" height="1.40" fill="#3030e8" stroke="none" stroke-width="0"/>
<rect x="646.00" y="549.10" width="1.40" height="1.40" fill="#3030e8" stroke="none" stroke-width="0"/>
<rect x="647.00" y="557.00" width="1.40" height="1.40" fill="#3030e8" stroke="none" stroke-width="0"/>
<rect x="650.00" y="547.70" width="1.40" height="1.40" fill="#3030e8" stroke="none" stroke-width="0"/>
<rect x="652.00" y="548.50" width="1.40" height="1.40" fill="#3030e8" stroke="none" stroke-width="0"/>
<rect x="652.00" y="556.00" width="1.40" height="1.40" fill="#3030e8" stroke="none" stroke-width="0"/>
<rect x="656.90" y="554.00" width="1.40" height="1.40" fill="#3030e8" stroke="none" stroke-width="0"/>
<rect x="658.50" y="549.70" width="1.40" height="1.40" fill="#3030e8" stroke="none" stroke-width="0"/>
<rect x="662.50" y="553.20" width="1.40" height="1.40" fill="#3030e8" stroke="none" stroke-width="0"/>
<rect x="668.80" y="548.10" width="1.40" height="1.40" fill="#3030e8" stroke="none" stroke-width="0"/>
<rect x="606.4" y="461.9" width="135.60000000000002" height="125.0" fill="none" stroke="#7a7a7a" stroke-width="0.8"/>
<line x1="633.40" y1="586.90" x2="633.40" y2="588.40" stroke="#555" stroke-width="0.6"/>
<text x="633.40" y="593.50" font-size="5.6" font-weight="normal" text-anchor="middle" fill="#333">−2</text>
<line x1="669.40" y1="586.90" x2="669.40" y2="588.40" stroke="#555" stroke-width="0.6"/>
<text x="669.40" y="593.50" font-size="5.6" font-weight="normal" text-anchor="middle" fill="#333">0</text>
<line x1="705.40" y1="586.90" x2="705.40" y2="588.40" stroke="#555" stroke-width="0.6"/>
<text x="705.40" y="593.50" font-size="5.6" font-weight="normal" text-anchor="middle" fill="#333">2</text>
<line x1="741.40" y1="586.90" x2="741.40" y2="588.40" stroke="#555" stroke-width="0.6"/>
<text x="741.40" y="593.50" font-size="5.6" font-weight="normal" text-anchor="middle" fill="#333">4</text>
<rect x="608.30" y="450.60" width="5.70" height="5.10" fill="#2828c8" stroke="#202050" stroke-width="0.5"/>
<text x="619.50" y="455.20" font-size="6.1" font-weight="bold" text-anchor="start" fill="#000" stroke="#000" stroke-width="0.22">cerebral infarction</text>
<rect x="685.40" y="450.60" width="5.70" height="5.10" fill="#c82424" stroke="#502020" stroke-width="0.5"/>
<text x="697.40" y="455.20" font-size="6.1" font-weight="bold" text-anchor="start" fill="#000" stroke="#000" stroke-width="0.22">cerebral hemorrhage</text>
<text x="669.10" y="603.00" font-size="5.9" font-weight="bold" text-anchor="middle" fill="#000" stroke="#000" stroke-width="0.22">One dimension</text>
<text x="0.00" y="0.00" font-size="6.05" font-weight="bold" text-anchor="middle" fill="#000" transform="translate(596.40,490.40) rotate(-90)" stroke="#000" stroke-width="0.22">cerebral hemorrhage</text>
<text x="0.00" y="0.00" font-size="6.1" font-weight="bold" text-anchor="middle" fill="#000" transform="translate(596.40,551.50) rotate(-90)" stroke="#000" stroke-width="0.22">cerebral infarction</text>
</svg></body></html>
